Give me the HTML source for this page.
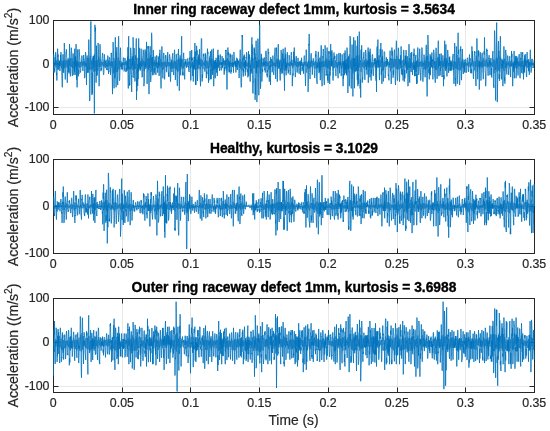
<!DOCTYPE html><html><head><meta charset="utf-8"><style>html,body{margin:0;padding:0;background:#fff;}svg{display:block;}text{font-family:"Liberation Sans",Arial,Helvetica,sans-serif;fill:#262626;stroke:#262626;stroke-width:0.2px;}text.t{fill:#000;stroke:#000;stroke-width:0.35px;}</style></head><body>
<svg width="550" height="431" viewBox="0 0 550 431">
<rect width="550" height="431" fill="#fff"/>
<path d="M122.50,20.5V114.5 M190.50,20.5V114.5 M259.50,20.5V114.5 M328.50,20.5V114.5 M397.50,20.5V114.5 M465.50,20.5V114.5 M53.5,64.00H534.5 M53.5,107.50H534.5" stroke="#e8e8e8" stroke-width="1" fill="none"/>
<path d="M122.50,114.5v-5M122.50,20.5v5 M190.50,114.5v-5M190.50,20.5v5 M259.50,114.5v-5M259.50,20.5v5 M328.50,114.5v-5M328.50,20.5v5 M397.50,114.5v-5M397.50,20.5v5 M465.50,114.5v-5M465.50,20.5v5 M53.5,20.50h5M534.5,20.50h-5 M53.5,64.00h5M534.5,64.00h-5 M53.5,107.50h5M534.5,107.50h-5" stroke="#262626" stroke-width="1" fill="none"/>
<rect x="53.5" y="20.5" width="481.0" height="94.0" stroke="#262626" stroke-width="1" fill="none"/>
<clipPath id="p1c"><rect x="53.0" y="20.0" width="482.0" height="95.0"/></clipPath>
<path clip-path="url(#p1c)" d="M53.85,61.80 54.55,66.27 55.25,61.75 55.95,67.36 56.65,60.50 57.35,69.61 58.05,58.76 58.75,67.61 59.45,61.28 60.15,66.04 60.85,60.42 61.55,68.28 62.25,60.97 62.95,71.83 63.65,60.62 64.35,68.38 65.05,59.46 65.75,66.91 66.45,60.57 67.15,67.98 67.85,59.66 68.55,67.97 69.25,59.97 69.95,66.38 70.65,58.03 71.35,67.00 72.05,58.52 72.75,68.38 73.45,61.06 74.15,67.51 74.85,57.12 75.55,66.66 76.25,60.34 76.95,70.07 77.65,61.28 78.35,66.36 79.05,61.89 79.75,67.95 80.45,62.07 81.15,66.85 81.85,62.33 82.55,64.95 83.25,61.21 83.95,66.39 84.65,61.27 85.35,66.42 86.05,62.35 86.75,67.25 87.45,57.82 88.15,69.19 88.85,58.28 89.55,70.17 90.25,55.61 90.95,69.40 91.65,60.50 92.35,69.80 93.05,56.11 93.75,71.81 94.45,54.10 95.15,71.34 95.85,60.43 96.55,68.84 97.25,60.18 97.95,70.46 98.65,56.46 99.35,66.78 100.05,58.60 100.75,66.98 101.45,61.38 102.15,65.55 102.85,61.99 103.55,66.52 104.25,59.97 104.95,66.89 105.65,61.06 106.35,65.86 107.05,62.87 107.75,66.92 108.45,60.56 109.15,66.15 109.85,61.38 110.55,65.77 111.25,61.41 111.95,67.60 112.65,61.47 113.35,73.30 114.05,57.98 114.75,66.65 115.45,60.01 116.15,72.22 116.85,58.01 117.55,71.86 118.25,57.43 118.95,69.61 119.65,60.74 120.35,66.80 121.05,61.11 121.75,66.96 122.45,62.47 123.15,65.04 123.85,62.78 124.55,64.83 125.25,61.81 125.95,65.17 126.65,60.57 127.35,68.15 128.05,56.19 128.75,68.56 129.45,59.07 130.15,69.87 130.85,58.75 131.55,68.56 132.25,58.29 132.95,69.93 133.65,55.83 134.35,68.85 135.05,60.91 135.75,68.91 136.45,58.37 137.15,73.75 137.85,57.78 138.55,71.58 139.25,57.67 139.95,68.56 140.65,61.29 141.35,66.68 142.05,58.76 142.75,66.20 143.45,60.67 144.15,71.05 144.85,61.74 145.55,69.08 146.25,58.65 146.95,68.11 147.65,58.23 148.35,70.12 149.05,58.22 149.75,67.57 150.45,55.14 151.15,71.88 151.85,57.84 152.55,69.82 153.25,61.80 153.95,66.59 154.65,62.04 155.35,65.84 156.05,61.49 156.75,67.84 157.45,62.58 158.15,66.16 158.85,60.74 159.55,65.62 160.25,58.85 160.95,67.24 161.65,61.69 162.35,66.27 163.05,62.04 163.75,69.29 164.45,61.93 165.15,66.84 165.85,61.78 166.55,67.36 167.25,60.05 167.95,66.42 168.65,61.94 169.35,66.29 170.05,62.33 170.75,68.78 171.45,61.83 172.15,68.69 172.85,61.57 173.55,67.76 174.25,60.58 174.95,68.54 175.65,61.41 176.35,69.89 177.05,59.95 177.75,72.12 178.45,58.50 179.15,70.98 179.85,58.73 180.55,66.99 181.25,59.49 181.95,68.79 182.65,59.44 183.35,68.37 184.05,62.55 184.75,66.54 185.45,61.64 186.15,65.46 186.85,62.37 187.55,65.31 188.25,61.65 188.95,65.44 189.65,61.55 190.35,68.87 191.05,61.60 191.75,67.25 192.45,62.00 193.15,67.53 193.85,60.40 194.55,69.63 195.25,56.46 195.95,69.93 196.65,59.49 197.35,68.74 198.05,59.48 198.75,68.74 199.45,56.76 200.15,69.53 200.85,58.79 201.55,66.35 202.25,59.94 202.95,68.74 203.65,62.08 204.35,65.66 205.05,60.46 205.75,68.01 206.45,60.76 207.15,68.58 207.85,61.42 208.55,68.57 209.25,60.85 209.95,68.04 210.65,59.67 211.35,66.73 212.05,58.58 212.75,71.13 213.45,60.96 214.15,69.39 214.85,61.41 215.55,68.19 216.25,62.15 216.95,68.83 217.65,58.88 218.35,67.80 219.05,60.40 219.75,64.97 220.45,62.37 221.15,64.76 221.85,61.95 222.55,66.46 223.25,60.22 223.95,65.95 224.65,60.53 225.35,68.80 226.05,59.92 226.75,70.51 227.45,58.03 228.15,66.49 228.85,60.06 229.55,66.86 230.25,61.30 230.95,66.45 231.65,62.77 232.35,66.17 233.05,62.23 233.75,65.99 234.45,61.80 235.15,66.53 235.85,62.97 236.55,67.21 237.25,61.62 237.95,65.26 238.65,60.72 239.35,67.39 240.05,58.86 240.75,68.77 241.45,61.67 242.15,70.25 242.85,57.63 243.55,66.41 244.25,61.85 244.95,68.20 245.65,60.32 246.35,66.16 247.05,62.56 247.75,66.85 248.45,62.27 249.15,67.86 249.85,60.24 250.55,67.01 251.25,57.28 251.95,73.26 252.65,58.44 253.35,68.19 254.05,58.34 254.75,68.57 255.45,56.82 256.15,72.75 256.85,60.83 257.55,67.27 258.25,59.44 258.95,67.44 259.65,59.91 260.35,73.44 261.05,58.97 261.75,66.11 262.45,62.70 263.15,67.17 263.85,62.08 264.55,65.34 265.25,61.24 265.95,66.63 266.65,61.48 267.35,65.93 268.05,61.85 268.75,70.13 269.45,60.98 270.15,68.63 270.85,61.99 271.55,66.58 272.25,60.91 272.95,66.08 273.65,62.77 274.35,66.29 275.05,62.13 275.75,66.97 276.45,59.44 277.15,66.61 277.85,58.77 278.55,68.30 279.25,59.74 279.95,67.01 280.65,59.70 281.35,68.58 282.05,61.84 282.75,65.60 283.45,58.56 284.15,70.32 284.85,58.27 285.55,70.58 286.25,62.42 286.95,67.46 287.65,62.74 288.35,65.60 289.05,62.84 289.75,66.51 290.45,61.62 291.15,65.92 291.85,59.86 292.55,67.92 293.25,59.93 293.95,66.54 294.65,57.99 295.35,65.33 296.05,61.53 296.75,67.05 297.45,61.97 298.15,66.53 298.85,62.06 299.55,65.57 300.25,63.32 300.95,65.66 301.65,61.93 302.35,65.63 303.05,62.09 303.75,66.70 304.45,61.87 305.15,65.43 305.85,61.55 306.55,72.63 307.25,61.69 307.95,68.96 308.65,60.42 309.35,68.16 310.05,61.52 310.75,67.14 311.45,60.25 312.15,67.05 312.85,60.71 313.55,65.42 314.25,61.72 314.95,68.57 315.65,61.14 316.35,68.69 317.05,62.21 317.75,67.26 318.45,59.16 319.15,68.61 319.85,61.71 320.55,70.13 321.25,61.58 321.95,67.08 322.65,61.34 323.35,66.38 324.05,61.10 324.75,67.15 325.45,60.37 326.15,66.96 326.85,58.55 327.55,68.26 328.25,60.57 328.95,68.74 329.65,60.73 330.35,70.51 331.05,59.44 331.75,66.64 332.45,60.77 333.15,68.68 333.85,57.88 334.55,67.75 335.25,60.05 335.95,66.81 336.65,62.17 337.35,68.08 338.05,62.20 338.75,65.51 339.45,61.46 340.15,65.50 340.85,61.65 341.55,69.12 342.25,62.29 342.95,66.39 343.65,60.95 344.35,69.83 345.05,59.90 345.75,70.18 346.45,59.26 347.15,69.04 347.85,57.65 348.55,69.91 349.25,54.32 349.95,67.95 350.65,60.54 351.35,69.55 352.05,57.89 352.75,73.50 353.45,58.54 354.15,71.05 354.85,57.97 355.55,66.46 356.25,55.65 356.95,68.64 357.65,58.67 358.35,70.50 359.05,55.33 359.75,67.33 360.45,60.16 361.15,71.87 361.85,58.84 362.55,66.88 363.25,61.64 363.95,68.13 364.65,60.40 365.35,66.71 366.05,58.96 366.75,67.62 367.45,60.52 368.15,67.22 368.85,59.57 369.55,67.84 370.25,59.37 370.95,68.37 371.65,62.30 372.35,67.52 373.05,62.59 373.75,65.85 374.45,61.94 375.15,67.31 375.85,60.77 376.55,70.39 377.25,60.61 377.95,67.03 378.65,59.62 379.35,67.67 380.05,60.14 380.75,67.09 381.45,57.46 382.15,71.07 382.85,61.66 383.55,70.16 384.25,61.67 384.95,66.98 385.65,60.91 386.35,66.26 387.05,62.36 387.75,65.38 388.45,61.64 389.15,67.57 389.85,60.49 390.55,71.36 391.25,58.65 391.95,68.20 392.65,58.90 393.35,67.54 394.05,58.67 394.75,66.81 395.45,59.23 396.15,68.95 396.85,55.74 397.55,69.68 398.25,58.43 398.95,69.43 399.65,59.10 400.35,68.24 401.05,61.33 401.75,66.83 402.45,60.32 403.15,68.45 403.85,59.01 404.55,65.88 405.25,60.66 405.95,67.59 406.65,60.21 407.35,70.15 408.05,61.82 408.75,67.85 409.45,57.85 410.15,66.82 410.85,61.65 411.55,65.88 412.25,62.69 412.95,67.81 413.65,61.36 414.35,68.27 415.05,62.07 415.75,69.87 416.45,60.69 417.15,67.08 417.85,58.72 418.55,67.08 419.25,62.08 419.95,66.46 420.65,61.55 421.35,66.78 422.05,61.21 422.75,66.05 423.45,62.45 424.15,69.37 424.85,60.69 425.55,69.79 426.25,56.35 426.95,68.22 427.65,56.15 428.35,67.21 429.05,61.17 429.75,65.99 430.45,61.72 431.15,67.69 431.85,62.16 432.55,68.33 433.25,58.98 433.95,67.58 434.65,61.18 435.35,69.67 436.05,61.07 436.75,70.12 437.45,57.62 438.15,67.40 438.85,60.25 439.55,65.90 440.25,60.84 440.95,67.84 441.65,60.71 442.35,66.83 443.05,60.60 443.75,66.79 444.45,57.95 445.15,67.47 445.85,61.58 446.55,68.82 447.25,61.81 447.95,66.32 448.65,62.95 449.35,66.98 450.05,61.66 450.75,66.43 451.45,62.34 452.15,66.71 452.85,61.34 453.55,69.98 454.25,60.91 454.95,68.35 455.65,61.89 456.35,68.78 457.05,54.96 457.75,69.56 458.45,57.86 459.15,70.64 459.85,57.62 460.55,70.08 461.25,61.38 461.95,67.58 462.65,58.90 463.35,67.71 464.05,62.27 464.75,66.19 465.45,62.10 466.15,65.78 466.85,63.10 467.55,65.55 468.25,61.84 468.95,66.80 469.65,61.33 470.35,67.82 471.05,61.94 471.75,65.82 472.45,60.45 473.15,66.71 473.85,61.35 474.55,70.42 475.25,61.46 475.95,66.99 476.65,56.22 477.35,72.19 478.05,60.46 478.75,66.90 479.45,60.73 480.15,67.00 480.85,61.65 481.55,66.27 482.25,60.63 482.95,67.35 483.65,58.13 484.35,66.31 485.05,60.28 485.75,66.64 486.45,58.96 487.15,67.30 487.85,62.26 488.55,66.43 489.25,62.42 489.95,67.26 490.65,61.53 491.35,65.71 492.05,62.45 492.75,66.94 493.45,59.45 494.15,73.15 494.85,60.40 495.55,69.88 496.25,57.97 496.95,71.56 497.65,58.44 498.35,70.37 499.05,57.33 499.75,71.50 500.45,56.82 501.15,68.40 501.85,58.65 502.55,68.68 503.25,62.22 503.95,71.08 504.65,58.73 505.35,67.96 506.05,61.48 506.75,67.57 507.45,63.00 508.15,65.30 508.85,61.39 509.55,66.81 510.25,61.36 510.95,66.01 511.65,59.75 512.35,65.87 513.05,62.02 513.75,69.00 514.45,60.95 515.15,68.02 515.85,60.98 516.55,68.70 517.25,61.15 517.95,66.76 518.65,61.74 519.35,66.16 520.05,60.82 520.75,67.49 521.45,61.31 522.15,66.70 522.85,61.15 523.55,68.24 524.25,60.35 524.95,67.03 525.65,60.73 526.35,66.80 527.05,61.02 527.75,67.92 528.45,61.95 529.15,65.60 529.85,61.61 530.55,66.62 531.25,61.37 531.95,64.79 532.65,63.08 533.35,65.33 534.05,62.55" stroke="#0072BD" stroke-width="0.6" fill="none" stroke-linejoin="round"/>
<path clip-path="url(#p1c)" d="M53.50,72.55 53.70,54.36 53.90,62.39 54.10,70.94 54.30,67.90 54.50,72.46 54.70,71.88 54.90,68.78 55.10,57.34 55.30,63.84 55.50,54.01 55.70,52.21 55.90,54.92 56.10,57.77 56.30,70.64 56.50,75.16 56.70,72.88 56.90,80.50 57.10,71.24 57.30,66.71 57.50,48.68 57.70,48.83 57.90,57.56 58.10,54.54 58.30,64.59 58.50,69.63 58.70,69.01 58.90,68.65 59.10,61.57 59.30,61.83 59.50,65.77 59.70,60.61 59.90,71.04 60.10,67.09 60.30,64.29 60.50,54.98 60.70,60.87 60.90,52.09 61.10,53.45 61.30,58.59 61.50,67.57 61.70,67.57 61.90,76.86 62.10,81.51 62.30,87.32 62.50,70.61 62.70,63.08 62.90,54.27 63.10,54.60 63.30,59.92 63.50,65.87 63.70,72.96 63.90,65.15 64.10,53.55 64.30,43.00 64.50,47.25 64.70,59.53 64.90,67.16 65.10,78.15 65.30,79.47 65.50,77.77 65.70,69.14 65.90,52.76 66.10,53.12 66.30,49.53 66.50,49.28 66.70,57.31 66.90,57.93 67.10,69.67 67.30,82.77 67.50,72.79 67.70,68.16 67.90,63.27 68.10,59.98 68.30,58.41 68.50,60.35 68.70,72.28 68.90,67.63 69.10,73.43 69.30,56.83 69.50,44.14 69.70,53.58 69.90,59.06 70.10,66.13 70.30,76.42 70.50,75.44 70.70,68.50 70.90,58.33 71.10,51.75 71.30,47.71 71.50,50.53 71.70,52.97 71.90,61.85 72.10,73.19 72.30,75.84 72.50,75.84 72.70,65.83 72.90,54.60 73.10,53.46 73.30,53.86 73.50,60.21 73.70,60.97 73.90,75.09 74.10,66.42 74.30,65.98 74.50,71.68 74.70,48.77 74.90,73.43 75.10,73.68 75.30,74.78 75.50,56.32 75.70,65.89 75.90,48.00 76.10,44.14 76.30,54.58 76.50,78.35 76.70,79.81 76.90,62.99 77.10,87.32 77.30,71.47 77.50,58.08 77.70,49.43 77.90,55.81 78.10,60.30 78.30,76.38 78.50,70.17 78.70,70.45 78.90,74.14 79.10,49.34 79.30,51.50 79.50,56.73 79.70,57.71 79.90,59.60 80.10,70.29 80.30,72.46 80.50,72.46 80.70,70.97 80.90,68.47 81.10,63.08 81.30,61.45 81.50,62.23 81.70,58.27 81.90,55.59 82.10,58.73 82.30,62.07 82.50,66.40 82.70,66.59 82.90,70.98 83.10,65.99 83.30,64.41 83.50,56.52 83.70,55.07 83.90,59.60 84.10,59.10 84.30,61.51 84.50,78.05 84.70,78.08 84.90,77.39 85.10,74.20 85.30,56.39 85.50,52.09 85.70,53.28 85.90,59.31 86.10,66.43 86.30,70.17 86.50,85.05 86.70,62.27 86.90,57.89 87.10,55.57 87.30,62.61 87.50,65.52 87.70,72.83 87.90,67.76 88.10,71.57 88.30,72.48 88.50,50.18 88.70,39.59 88.90,39.84 89.10,51.35 89.30,65.50 89.50,100.95 89.70,100.59 89.90,100.59 90.10,84.75 90.30,60.72 90.50,36.40 90.70,32.51 90.90,21.41 91.10,43.68 91.30,65.01 91.50,66.85 91.70,88.05 91.90,94.96 92.10,88.74 92.30,72.68 92.50,93.56 92.70,62.71 92.90,58.20 93.10,63.49 93.30,63.91 93.50,55.74 93.70,67.15 93.90,56.78 94.10,80.78 94.30,113.45 94.50,110.45 94.70,58.56 94.90,24.82 95.10,31.53 95.30,31.20 95.50,27.46 95.70,60.43 95.90,72.32 96.10,82.64 96.30,72.19 96.50,45.67 96.70,75.75 96.90,68.91 97.10,75.44 97.30,69.04 97.50,63.98 97.70,62.68 97.90,49.84 98.10,43.00 98.30,46.39 98.50,48.51 98.70,63.87 98.90,80.53 99.10,86.18 99.30,82.61 99.50,69.70 99.70,62.22 99.90,44.33 100.10,44.33 100.30,49.78 100.50,58.02 100.70,58.92 100.90,71.16 101.10,69.82 101.30,67.82 101.50,70.10 101.70,67.71 101.90,65.00 102.10,58.67 102.30,56.15 102.50,53.15 102.70,53.05 102.90,58.63 103.10,61.83 103.30,72.27 103.50,74.82 103.70,74.71 103.90,72.31 104.10,64.47 104.30,54.31 104.50,54.94 104.70,59.32 104.90,65.02 105.10,67.04 105.30,68.14 105.50,67.40 105.70,65.95 105.90,62.32 106.10,59.68 106.30,65.36 106.50,65.14 106.70,69.91 106.90,68.73 107.10,69.57 107.30,70.18 107.50,60.00 107.70,55.59 107.90,56.11 108.10,56.97 108.30,64.34 108.50,73.89 108.70,70.91 108.90,71.84 109.10,70.12 109.30,59.75 109.50,57.32 109.70,59.03 109.90,58.94 110.10,67.51 110.30,67.98 110.50,74.82 110.70,66.40 110.90,65.32 111.10,53.46 111.30,54.12 111.50,52.86 111.70,63.90 111.90,69.95 112.10,73.54 112.30,81.38 112.50,94.14 112.70,60.56 112.90,51.03 113.10,42.08 113.30,47.24 113.50,49.10 113.70,67.84 113.90,83.82 114.10,88.30 114.30,78.77 114.50,72.47 114.70,66.34 114.90,78.42 115.10,69.85 115.30,37.32 115.50,66.48 115.70,75.88 115.90,77.81 116.10,87.32 116.30,51.94 116.50,58.40 116.70,47.32 116.90,47.24 117.10,59.56 117.30,75.11 117.50,80.19 117.70,85.11 117.90,75.54 118.10,65.52 118.30,47.98 118.50,36.18 118.70,36.46 118.90,51.81 119.10,60.77 119.30,77.56 119.50,80.75 119.70,79.29 119.90,72.80 120.10,57.36 120.30,50.36 120.50,47.71 120.70,55.43 120.90,61.75 121.10,67.07 121.30,69.36 121.50,65.04 121.70,63.75 121.90,65.92 122.10,62.61 122.30,69.61 122.50,67.71 122.70,68.77 122.90,66.38 123.10,64.14 123.30,57.61 123.50,57.81 123.70,57.69 123.90,64.08 124.10,71.33 124.30,70.29 124.50,70.04 124.70,64.65 124.90,58.29 125.10,58.01 125.30,60.43 125.50,61.36 125.70,62.51 125.90,71.97 126.10,68.94 126.30,67.99 126.50,71.20 126.70,68.13 126.90,62.38 127.10,69.36 127.30,70.45 127.50,57.15 127.70,64.18 127.90,47.30 128.10,75.59 128.30,88.45 128.50,45.36 128.70,36.18 128.90,57.10 129.10,68.76 129.30,66.82 129.50,85.62 129.70,83.63 129.90,84.63 130.10,75.20 130.30,74.72 130.50,55.30 130.70,47.71 130.90,51.33 131.10,53.24 131.30,70.75 131.50,86.14 131.70,91.86 131.90,75.69 132.10,76.67 132.30,56.45 132.50,65.50 132.70,56.46 132.90,52.41 133.10,37.32 133.30,46.32 133.50,71.45 133.70,75.25 133.90,77.92 134.10,48.02 134.30,63.41 134.50,71.90 134.70,72.05 134.90,81.44 135.10,80.70 135.30,62.29 135.50,59.98 135.70,55.29 135.90,59.73 136.10,47.21 136.30,38.45 136.50,99.82 136.70,78.55 136.90,91.13 137.10,70.95 137.30,71.48 137.50,68.84 137.70,85.89 137.90,64.10 138.10,79.22 138.30,70.32 138.50,67.91 138.70,38.45 138.90,69.55 139.10,62.16 139.30,47.81 139.50,63.14 139.70,67.52 139.90,62.95 140.10,69.89 140.30,70.67 140.50,66.81 140.70,68.86 140.90,54.46 141.10,48.68 141.30,51.73 141.50,65.73 141.70,64.92 141.90,75.42 142.10,77.25 142.30,75.97 142.50,76.32 142.70,58.24 142.90,55.46 143.10,49.74 143.30,49.86 143.50,51.83 143.70,60.68 143.90,86.18 144.10,82.96 144.30,82.97 144.50,72.75 144.70,59.09 144.90,52.51 145.10,49.44 145.30,61.41 145.50,62.91 145.70,67.03 145.90,58.41 146.10,51.53 146.30,58.09 146.50,41.86 146.70,61.58 146.90,72.17 147.10,83.91 147.30,73.54 147.50,69.46 147.70,65.85 147.90,46.34 148.10,48.60 148.30,45.95 148.50,52.51 148.70,77.86 148.90,93.25 149.10,94.14 149.30,78.23 149.50,63.81 149.70,51.87 149.90,51.34 150.10,46.26 150.30,49.15 150.50,80.34 150.70,81.92 150.90,80.21 151.10,75.73 151.30,64.71 151.50,33.60 151.70,32.77 151.90,38.43 152.10,65.21 152.30,56.91 152.50,72.27 152.70,75.30 152.90,68.32 153.10,62.42 153.30,49.96 153.50,56.58 153.70,61.99 153.90,74.73 154.10,68.25 154.30,72.74 154.50,69.08 154.70,60.38 154.90,61.07 155.10,56.51 155.30,58.20 155.50,70.18 155.70,71.06 155.90,74.82 156.10,70.40 156.30,62.00 156.50,64.60 156.70,55.38 156.90,59.46 157.10,65.79 157.30,66.19 157.50,65.51 157.70,72.61 157.90,66.02 158.10,68.06 158.30,56.45 158.50,61.01 158.70,65.95 158.90,62.83 159.10,75.97 159.30,70.11 159.50,53.56 159.70,58.81 159.90,49.76 160.10,53.49 160.30,62.52 160.50,69.27 160.70,76.70 160.90,85.40 161.10,88.45 161.30,75.80 161.50,68.51 161.70,53.51 161.90,46.41 162.10,55.06 162.30,69.64 162.50,67.49 162.70,74.32 162.90,78.30 163.10,68.84 163.30,60.04 163.50,55.56 163.70,52.92 163.90,54.05 164.10,59.36 164.30,69.07 164.50,79.36 164.70,79.21 164.90,73.41 165.10,68.31 165.30,59.19 165.50,55.46 165.70,56.51 165.90,55.34 166.10,65.19 166.30,65.24 166.50,71.30 166.70,72.17 166.90,66.71 167.10,66.13 167.30,57.60 167.50,60.90 167.70,52.09 167.90,62.03 168.10,64.48 168.30,69.82 168.50,76.25 168.70,72.59 168.90,76.96 169.10,68.91 169.30,56.25 169.50,54.46 169.70,54.46 169.90,58.08 170.10,57.89 170.30,77.04 170.50,81.64 170.70,76.98 170.90,63.15 171.10,62.11 171.30,59.57 171.50,61.21 171.70,67.92 171.90,72.02 172.10,69.15 172.30,55.92 172.50,55.79 172.70,53.23 172.90,59.94 173.10,64.52 173.30,70.55 173.50,74.05 173.70,75.06 173.90,69.07 174.10,62.92 174.30,54.10 174.50,49.82 174.70,52.67 174.90,61.32 175.10,66.86 175.30,79.89 175.50,78.84 175.70,66.78 175.90,67.24 176.10,58.94 176.30,54.25 176.50,57.87 176.70,58.41 176.90,72.16 177.10,83.41 177.30,85.96 177.50,85.96 177.70,72.21 177.90,62.43 178.10,53.56 178.30,54.94 178.50,49.03 178.70,59.27 178.90,68.01 179.10,74.17 179.30,90.73 179.50,79.07 179.70,65.90 179.90,56.23 180.10,55.33 180.30,56.09 180.50,71.98 180.70,75.28 180.90,58.18 181.10,66.83 181.30,52.85 181.50,41.65 181.70,36.18 181.90,58.73 182.10,64.14 182.30,69.99 182.50,73.39 182.70,75.22 182.90,72.36 183.10,75.34 183.30,58.51 183.50,53.99 183.70,52.82 183.90,59.54 184.10,58.98 184.30,70.54 184.50,77.70 184.70,79.36 184.90,70.97 185.10,65.48 185.30,61.39 185.50,63.57 185.70,60.59 185.90,59.18 186.10,62.55 186.30,64.59 186.50,67.67 186.70,65.69 186.90,67.07 187.10,64.29 187.30,60.76 187.50,58.82 187.70,58.47 187.90,58.38 188.10,63.67 188.30,67.23 188.50,65.95 188.70,70.43 188.90,70.26 189.10,72.00 189.30,63.43 189.50,57.75 189.70,59.28 189.90,57.54 190.10,51.08 190.30,62.47 190.50,73.00 190.70,80.50 190.90,80.34 191.10,73.75 191.30,57.09 191.50,61.18 191.70,49.96 191.90,59.40 192.10,59.96 192.30,57.84 192.50,69.25 192.70,76.05 192.90,71.39 193.10,64.84 193.30,81.46 193.50,66.67 193.70,65.30 193.90,68.40 194.10,56.88 194.30,67.46 194.50,61.71 194.70,53.85 194.90,43.00 195.10,60.79 195.30,51.56 195.50,85.05 195.70,68.16 195.90,84.84 196.10,70.63 196.30,54.31 196.50,45.81 196.70,46.24 196.90,55.30 197.10,50.40 197.30,73.26 197.50,81.01 197.70,74.02 197.90,71.27 198.10,56.58 198.30,64.69 198.50,55.95 198.70,54.60 198.90,58.79 199.10,60.57 199.30,64.57 199.50,49.20 199.70,58.15 199.90,60.95 200.10,77.65 200.30,80.60 200.50,86.18 200.70,73.82 200.90,56.15 201.10,47.25 201.30,38.45 201.50,38.71 201.70,38.71 201.90,64.90 202.10,81.46 202.30,74.60 202.50,78.24 202.70,76.28 202.90,63.91 203.10,59.86 203.30,54.48 203.50,56.06 203.70,53.69 203.90,56.58 204.10,56.78 204.30,69.05 204.50,69.40 204.70,68.46 204.90,71.61 205.10,67.87 205.30,53.27 205.50,61.47 205.70,54.62 205.90,62.76 206.10,69.34 206.30,78.08 206.50,78.08 206.70,71.43 206.90,74.08 207.10,59.11 207.30,53.60 207.50,48.68 207.70,53.95 207.90,51.85 208.10,60.37 208.30,71.91 208.50,82.77 208.70,68.46 208.90,80.46 209.10,71.03 209.30,61.83 209.50,57.57 209.70,61.41 209.90,56.51 210.10,57.10 210.30,53.58 210.50,51.36 210.70,79.21 210.90,68.75 211.10,79.21 211.30,69.26 211.50,70.12 211.70,49.59 211.90,58.67 212.10,68.05 212.30,71.39 212.50,74.79 212.70,64.91 212.90,62.33 213.10,52.15 213.30,48.68 213.50,53.63 213.70,86.18 213.90,79.58 214.10,78.45 214.30,61.98 214.50,69.09 214.70,67.86 214.90,60.20 215.10,74.22 215.30,78.23 215.50,60.28 215.70,65.59 215.90,64.98 216.10,57.82 216.30,66.76 216.50,71.35 216.70,72.61 216.90,63.19 217.10,68.25 217.30,76.01 217.50,68.13 217.70,59.46 217.90,49.82 218.10,66.73 218.30,55.85 218.50,59.06 218.70,55.24 218.90,62.60 219.10,63.06 219.30,68.38 219.50,70.84 219.70,68.01 219.90,60.71 220.10,55.62 220.30,54.46 220.50,55.75 220.70,65.10 220.90,65.90 221.10,70.27 221.30,70.43 221.50,65.57 221.70,62.68 221.90,64.29 222.10,56.12 222.30,65.21 222.50,68.12 222.70,62.92 222.90,63.52 223.10,62.50 223.30,60.05 223.50,58.36 223.70,61.79 223.90,65.18 224.10,74.71 224.30,74.39 224.50,67.12 224.70,71.16 224.90,65.53 225.10,60.88 225.30,64.88 225.50,58.76 225.70,49.96 225.90,51.07 226.10,49.96 226.30,52.84 226.50,62.53 226.70,75.27 226.90,89.59 227.10,89.33 227.30,73.54 227.50,62.06 227.70,57.48 227.90,47.55 228.10,55.21 228.30,51.93 228.50,62.70 228.70,68.51 228.90,71.38 229.10,72.48 229.30,62.14 229.50,71.97 229.70,60.75 229.90,53.70 230.10,53.53 230.30,57.32 230.50,54.65 230.70,68.05 230.90,73.59 231.10,70.09 231.30,71.89 231.50,71.56 231.70,61.33 231.90,57.32 232.10,54.71 232.30,58.10 232.50,58.23 232.70,66.95 232.90,62.36 233.10,67.32 233.30,67.12 233.50,72.55 233.70,60.06 233.90,52.09 234.10,54.68 234.30,56.81 234.50,61.64 234.70,64.24 234.90,61.54 235.10,62.68 235.30,63.86 235.50,67.05 235.70,60.69 235.90,72.46 236.10,67.21 236.30,67.44 236.50,59.39 236.70,57.74 236.90,58.10 237.10,60.78 237.30,70.01 237.50,58.98 237.70,63.22 237.90,63.05 238.10,60.93 238.30,61.26 238.50,60.83 238.70,64.16 238.90,71.65 239.10,78.08 239.30,73.80 239.50,68.41 239.70,62.19 239.90,57.42 240.10,51.24 240.30,49.70 240.50,55.11 240.70,58.36 240.90,82.23 241.10,87.32 241.30,87.08 241.50,87.08 241.70,72.46 241.90,46.33 242.10,35.05 242.30,37.06 242.50,35.33 242.70,56.88 242.90,71.21 243.10,74.05 243.30,76.50 243.50,68.79 243.70,72.17 243.90,55.80 244.10,60.02 244.30,54.60 244.50,67.92 244.70,65.06 244.90,65.03 245.10,62.38 245.30,75.62 245.50,60.24 245.70,66.28 245.90,69.90 246.10,56.99 246.30,58.33 246.50,52.21 246.70,52.81 246.90,54.79 247.10,66.28 247.30,72.22 247.50,69.57 247.70,72.40 247.90,77.34 248.10,73.21 248.30,61.78 248.50,51.08 248.70,75.96 248.90,55.17 249.10,58.99 249.30,54.43 249.50,55.32 249.70,62.25 249.90,72.69 250.10,81.64 250.30,81.46 250.50,65.03 250.70,72.77 250.90,73.86 251.10,69.24 251.30,71.30 251.50,54.68 251.70,43.23 251.90,37.32 252.10,60.41 252.30,44.52 252.50,72.07 252.70,92.00 252.90,93.21 253.10,93.49 253.30,82.34 253.50,82.65 253.70,74.78 253.90,58.34 254.10,47.48 254.30,54.92 254.50,48.65 254.70,59.17 254.90,53.60 255.10,99.82 255.30,78.41 255.50,94.50 255.70,73.33 255.90,56.69 256.10,40.73 256.30,56.47 256.50,73.30 256.70,61.38 256.90,102.09 257.10,89.55 257.30,77.40 257.50,60.26 257.70,49.04 257.90,38.67 258.10,41.27 258.30,48.74 258.50,79.10 258.70,95.24 258.90,95.00 259.10,78.69 259.30,66.38 259.50,37.87 259.70,24.82 259.90,40.96 260.10,52.43 260.30,61.51 260.50,88.79 260.70,86.01 260.90,76.12 261.10,72.77 261.30,53.84 261.50,63.25 261.70,57.39 261.90,81.51 262.10,74.34 262.30,71.27 262.50,68.95 262.70,71.72 262.90,62.14 263.10,58.58 263.30,60.25 263.50,65.11 263.70,64.67 263.90,65.33 264.10,59.17 264.30,57.34 264.50,64.84 264.70,70.17 264.90,68.67 265.10,69.02 265.30,72.46 265.50,65.08 265.70,51.99 265.90,50.96 266.10,50.82 266.30,52.92 266.50,56.62 266.70,69.69 266.90,75.36 267.10,74.32 267.30,77.36 267.50,70.30 267.70,72.01 267.90,55.79 268.10,48.68 268.30,51.73 268.50,53.58 268.70,52.18 268.90,72.03 269.10,77.14 269.30,81.61 269.50,75.94 269.70,76.78 269.90,65.48 270.10,69.71 270.30,77.02 270.50,85.05 270.70,57.20 270.90,62.47 271.10,61.28 271.30,59.10 271.50,60.83 271.70,60.20 271.90,64.03 272.10,72.28 272.30,71.04 272.50,68.28 272.70,64.77 272.90,55.61 273.10,63.09 273.30,70.64 273.50,71.57 273.70,74.84 273.90,71.66 274.10,71.28 274.30,61.92 274.50,56.45 274.70,52.80 274.90,51.81 275.10,47.71 275.30,61.74 275.50,78.96 275.70,78.78 275.90,72.79 276.10,57.90 276.30,55.03 276.50,47.64 276.70,54.70 276.90,56.41 277.10,64.22 277.30,81.64 277.50,69.04 277.70,61.77 277.90,62.59 278.10,47.27 278.30,44.14 278.50,57.49 278.70,62.41 278.90,66.86 279.10,68.71 279.30,61.67 279.50,65.42 279.70,67.00 279.90,75.03 280.10,80.50 280.30,80.34 280.50,67.97 280.70,71.54 280.90,60.65 281.10,49.96 281.30,51.66 281.50,63.11 281.70,62.59 281.90,73.81 282.10,64.23 282.30,72.86 282.50,65.61 282.70,53.52 282.90,60.77 283.10,48.83 283.30,62.65 283.50,61.16 283.70,70.87 283.90,75.13 284.10,75.63 284.30,78.91 284.50,90.73 284.70,55.17 284.90,52.56 285.10,47.55 285.30,47.71 285.50,68.04 285.70,54.34 285.90,59.70 286.10,75.27 286.30,67.57 286.50,64.80 286.70,70.36 286.90,68.43 287.10,59.58 287.30,52.21 287.50,57.04 287.70,64.25 287.90,67.10 288.10,73.43 288.30,73.33 288.50,70.36 288.70,71.66 288.90,60.31 289.10,55.13 289.30,56.01 289.50,58.58 289.70,60.39 289.90,71.28 290.10,74.79 290.30,75.07 290.50,71.60 290.70,64.89 290.90,60.62 291.10,55.24 291.30,52.09 291.50,55.50 291.70,62.75 291.90,65.02 292.10,63.16 292.30,86.18 292.50,77.92 292.70,78.23 292.90,73.61 293.10,75.34 293.30,71.89 293.50,51.79 293.70,54.49 293.90,61.12 294.10,57.43 294.30,47.55 294.50,62.90 294.70,61.37 294.90,70.37 295.10,72.39 295.30,77.09 295.50,72.44 295.70,72.62 295.90,60.88 296.10,56.77 296.30,56.09 296.50,61.32 296.70,62.63 296.90,67.75 297.10,72.46 297.30,72.46 297.50,66.59 297.70,64.79 297.90,58.17 298.10,57.83 298.30,61.37 298.50,64.93 298.70,67.70 298.90,68.25 299.10,73.67 299.30,62.99 299.50,61.65 299.70,61.30 299.90,63.20 300.10,62.22 300.30,63.85 300.50,74.82 300.70,61.44 300.90,66.03 301.10,60.29 301.30,61.33 301.50,57.77 301.70,59.14 301.90,66.94 302.10,71.21 302.30,67.52 302.50,69.23 302.70,66.30 302.90,64.81 303.10,66.17 303.30,64.73 303.50,73.68 303.70,65.60 303.90,63.63 304.10,56.22 304.30,55.59 304.50,55.80 304.70,56.91 304.90,67.33 305.10,75.25 305.30,77.23 305.50,85.96 305.70,78.35 305.90,62.15 306.10,50.12 306.30,49.65 306.50,52.90 306.70,60.48 306.90,66.34 307.10,64.64 307.30,64.45 307.50,64.49 307.70,67.44 307.90,76.06 308.10,91.86 308.30,86.30 308.50,74.41 308.70,44.02 308.90,45.19 309.10,33.91 309.30,34.21 309.50,52.89 309.70,72.50 309.90,76.82 310.10,79.08 310.30,72.78 310.50,64.73 310.70,59.92 310.90,54.47 311.10,53.84 311.30,53.26 311.50,61.33 311.70,63.70 311.90,66.48 312.10,67.95 312.30,74.71 312.50,71.01 312.70,66.87 312.90,65.04 313.10,58.82 313.30,58.34 313.50,59.24 313.70,62.66 313.90,64.66 314.10,68.05 314.30,69.56 314.50,77.42 314.70,78.08 314.90,76.04 315.10,68.76 315.30,58.89 315.50,54.30 315.70,56.53 315.90,50.95 316.10,53.42 316.30,58.81 316.50,69.86 316.70,80.88 316.90,80.74 317.10,83.91 317.30,72.36 317.50,63.21 317.70,67.58 317.90,57.23 318.10,54.45 318.30,51.77 318.50,54.07 318.70,60.27 318.90,71.95 319.10,73.18 319.30,62.07 319.50,71.97 319.70,67.03 319.90,57.63 320.10,68.64 320.30,80.18 320.50,69.02 320.70,55.57 320.90,54.84 321.10,45.27 321.30,45.46 321.50,64.10 321.70,74.92 321.90,80.67 322.10,86.18 322.30,73.87 322.50,68.80 322.70,56.30 322.90,57.49 323.10,56.81 323.30,48.97 323.50,63.54 323.70,70.60 323.90,79.57 324.10,81.22 324.30,85.05 324.50,72.94 324.70,67.78 324.90,57.99 325.10,45.27 325.30,50.49 325.50,56.16 325.70,67.92 325.90,70.06 326.10,75.73 326.30,74.03 326.50,74.57 326.70,57.75 326.90,54.14 327.10,47.55 327.30,54.08 327.50,69.47 327.70,80.39 327.90,74.27 328.10,82.77 328.30,67.22 328.50,62.14 328.70,51.52 328.90,53.45 329.10,51.26 329.30,55.49 329.50,71.10 329.70,83.91 329.90,71.49 330.10,75.42 330.30,72.04 330.50,52.23 330.70,44.14 330.90,56.70 331.10,51.79 331.30,65.91 331.50,57.67 331.70,65.31 331.90,50.33 332.10,52.37 332.30,57.95 332.50,60.34 332.70,71.58 332.90,79.09 333.10,80.50 333.30,74.74 333.50,75.24 333.70,58.38 333.90,53.52 334.10,52.57 334.30,58.82 334.50,56.88 334.70,58.63 334.90,55.88 335.10,66.68 335.30,68.26 335.50,71.19 335.70,73.57 335.90,76.05 336.10,72.73 336.30,61.19 336.50,61.06 336.70,54.08 336.90,54.20 337.10,54.33 337.30,67.48 337.50,65.59 337.70,73.09 337.90,74.52 338.10,78.23 338.30,64.01 338.50,64.05 338.70,53.23 338.90,53.34 339.10,53.34 339.30,64.84 339.50,73.30 339.70,64.57 339.90,63.06 340.10,64.41 340.30,53.23 340.50,57.37 340.70,68.74 340.90,69.85 341.10,75.74 341.30,75.83 341.50,69.42 341.70,68.38 341.90,58.42 342.10,54.31 342.30,56.06 342.50,60.90 342.70,68.54 342.90,75.64 343.10,86.18 343.30,73.59 343.50,78.63 343.70,62.36 343.90,72.54 344.10,52.99 344.30,59.36 344.50,75.14 344.70,61.54 344.90,68.68 345.10,50.49 345.30,55.48 345.50,67.78 345.70,62.89 345.90,73.11 346.10,63.78 346.30,73.93 346.50,64.54 346.70,75.44 346.90,47.71 347.10,47.71 347.30,50.85 347.50,62.01 347.70,66.06 347.90,93.00 348.10,63.25 348.30,68.52 348.50,56.42 348.70,61.17 348.90,72.16 349.10,71.47 349.30,86.20 349.50,79.18 349.70,78.08 349.90,39.66 350.10,36.18 350.30,37.78 350.50,38.07 350.70,53.88 350.90,70.59 351.10,85.88 351.30,88.45 351.50,73.96 351.70,65.79 351.90,54.85 352.10,44.58 352.30,54.80 352.50,78.17 352.70,77.87 352.90,96.41 353.10,76.53 353.30,73.11 353.50,45.31 353.70,37.32 353.90,66.81 354.10,58.43 354.30,68.31 354.50,88.21 354.70,69.88 354.90,42.67 355.10,40.45 355.30,42.99 355.50,68.66 355.70,71.70 355.90,67.45 356.10,69.52 356.30,70.89 356.50,69.39 356.70,62.79 356.90,59.49 357.10,45.73 357.30,79.81 357.50,36.18 357.70,73.16 357.90,86.18 358.10,74.29 358.30,83.96 358.50,65.85 358.70,61.34 358.90,43.44 359.10,38.65 359.30,31.64 359.50,56.30 359.70,68.30 359.90,76.51 360.10,88.64 360.30,79.45 360.50,79.95 360.70,97.55 360.90,53.12 361.10,49.54 361.30,59.02 361.50,52.10 361.70,45.27 361.90,57.30 362.10,75.03 362.30,82.66 362.50,77.58 362.70,79.40 362.90,73.71 363.10,67.80 363.30,57.58 363.50,58.06 363.70,54.56 363.90,52.17 364.10,58.97 364.30,61.59 364.50,70.63 364.70,76.13 364.90,79.82 365.10,70.21 365.30,64.68 365.50,53.19 365.70,49.96 365.90,52.15 366.10,53.48 366.30,70.04 366.50,69.79 366.70,62.78 366.90,74.32 367.10,74.63 367.30,61.92 367.50,61.24 367.70,60.88 367.90,63.45 368.10,47.55 368.30,82.77 368.50,69.82 368.70,70.32 368.90,51.40 369.10,65.96 369.30,52.65 369.50,64.32 369.70,66.59 369.90,77.24 370.10,48.68 370.30,54.10 370.50,54.35 370.70,59.97 370.90,67.41 371.10,80.50 371.30,69.22 371.50,73.90 371.70,71.56 371.90,65.72 372.10,56.66 372.30,54.74 372.50,54.32 372.70,56.44 372.90,68.09 373.10,75.84 373.30,75.84 373.50,75.24 373.70,68.66 373.90,62.91 374.10,59.80 374.30,59.38 374.50,60.60 374.70,58.44 374.90,63.80 375.10,61.85 375.30,58.17 375.50,64.40 375.70,76.97 375.90,79.21 376.10,80.79 376.30,60.51 376.50,91.86 376.70,60.85 376.90,47.55 377.10,47.65 377.30,46.26 377.50,62.53 377.70,56.83 377.90,39.59 378.10,67.78 378.30,61.07 378.50,65.47 378.70,61.42 378.90,59.61 379.10,55.34 379.30,77.85 379.50,80.11 379.70,70.10 379.90,64.29 380.10,49.14 380.30,48.94 380.50,56.96 380.70,47.80 380.90,43.00 381.10,63.11 381.30,75.03 381.50,69.03 381.70,75.21 381.90,83.91 382.10,49.52 382.30,62.82 382.50,56.10 382.70,59.24 382.90,65.92 383.10,73.13 383.30,81.46 383.50,74.86 383.70,72.36 383.90,62.86 384.10,51.82 384.30,51.49 384.50,51.99 384.70,52.21 384.90,61.70 385.10,78.08 385.30,75.04 385.50,74.62 385.70,70.43 385.90,67.75 386.10,64.70 386.30,57.46 386.50,57.31 386.70,66.47 386.90,61.42 387.10,64.30 387.30,64.32 387.50,59.07 387.70,61.53 387.90,64.51 388.10,64.28 388.30,75.95 388.50,74.62 388.70,76.47 388.90,80.34 389.10,66.75 389.30,63.34 389.50,65.29 389.70,61.30 389.90,56.08 390.10,50.70 390.30,60.42 390.50,58.33 390.70,60.01 390.90,73.23 391.10,83.27 391.30,83.91 391.50,75.92 391.70,70.55 391.90,47.55 392.10,55.53 392.30,50.88 392.50,54.95 392.70,59.19 392.90,69.60 393.10,77.75 393.30,70.57 393.50,74.89 393.70,68.82 393.90,61.62 394.10,53.50 394.30,50.66 394.50,49.61 394.70,55.02 394.90,64.29 395.10,73.85 395.30,82.72 395.50,85.05 395.70,75.52 395.90,66.86 396.10,47.73 396.30,40.73 396.50,41.40 396.70,52.49 396.90,57.57 397.10,75.35 397.30,80.55 397.50,80.59 397.70,76.37 397.90,65.65 398.10,56.51 398.30,47.80 398.50,48.93 398.70,52.37 398.90,60.21 399.10,68.98 399.30,76.30 399.50,81.64 399.70,77.84 399.90,70.14 400.10,59.27 400.30,63.93 400.50,61.22 400.70,55.26 400.90,65.01 401.10,46.41 401.30,68.06 401.50,70.95 401.70,74.51 401.90,65.50 402.10,70.43 402.30,71.87 402.50,75.27 402.70,69.80 402.90,69.02 403.10,80.57 403.30,59.90 403.50,50.30 403.70,49.96 403.90,49.96 404.10,60.27 404.30,81.64 404.50,79.43 404.70,69.88 404.90,78.38 405.10,61.22 405.30,55.76 405.50,63.78 405.70,55.98 405.90,59.65 406.10,50.11 406.30,61.99 406.50,73.39 406.70,63.53 406.90,68.09 407.10,58.67 407.30,56.25 407.50,60.22 407.70,67.89 407.90,86.18 408.10,85.96 408.30,79.30 408.50,70.81 408.70,57.13 408.90,44.14 409.10,44.33 409.30,58.17 409.50,78.10 409.70,82.58 409.90,74.11 410.10,65.32 410.30,68.30 410.50,60.62 410.70,57.76 410.90,52.85 411.10,72.03 411.30,61.04 411.50,57.65 411.70,51.99 411.90,56.25 412.10,68.44 412.30,68.85 412.50,75.02 412.70,69.81 412.90,69.45 413.10,65.45 413.30,69.80 413.50,66.55 413.70,53.68 413.90,55.91 414.10,48.68 414.30,58.86 414.50,76.15 414.70,66.19 414.90,65.19 415.10,72.76 415.30,76.07 415.50,57.15 415.70,57.63 415.90,54.89 416.10,71.91 416.30,61.32 416.50,83.91 416.70,81.83 416.90,73.77 417.10,83.57 417.30,73.05 417.50,59.25 417.70,47.55 417.90,47.71 418.10,58.89 418.30,61.14 418.50,70.05 418.70,74.96 418.90,73.58 419.10,71.47 419.30,58.55 419.50,51.42 419.70,48.76 419.90,51.48 420.10,67.09 420.30,70.84 420.50,72.55 420.70,80.50 420.90,78.33 421.10,70.34 421.30,65.44 421.50,58.45 421.70,54.08 421.90,47.55 422.10,49.44 422.30,56.54 422.50,69.34 422.70,75.65 422.90,81.64 423.10,77.64 423.30,75.05 423.50,67.58 423.70,62.46 423.90,54.58 424.10,54.77 424.30,56.30 424.50,61.86 424.70,65.41 424.90,73.90 425.10,77.26 425.30,74.90 425.50,66.51 425.70,60.17 425.90,56.53 426.10,47.13 426.30,44.83 426.50,57.34 426.70,78.30 426.90,85.48 427.10,96.41 427.30,87.17 427.50,70.99 427.70,49.10 427.90,35.05 428.10,39.50 428.30,44.30 428.50,60.62 428.70,68.22 428.90,73.15 429.10,68.44 429.30,79.36 429.50,66.77 429.70,73.65 429.90,61.44 430.10,54.28 430.30,65.75 430.50,75.13 430.70,56.01 430.90,55.90 431.10,61.59 431.30,57.33 431.50,66.81 431.70,56.38 431.90,52.47 432.10,58.12 432.30,61.45 432.50,59.81 432.70,64.50 432.90,79.36 433.10,65.56 433.30,64.80 433.50,61.35 433.70,49.82 433.90,52.51 434.10,53.07 434.30,60.34 434.50,61.96 434.70,76.14 434.90,77.74 435.10,79.53 435.30,82.77 435.50,64.31 435.70,57.94 435.90,51.50 436.10,47.84 436.30,51.31 436.50,63.79 436.70,67.66 436.90,75.57 437.10,78.87 437.30,74.78 437.50,70.12 437.70,65.25 437.90,55.71 438.10,48.67 438.30,40.73 438.50,67.21 438.70,63.71 438.90,76.17 439.10,57.29 439.30,64.84 439.50,59.81 439.70,53.90 439.90,58.57 440.10,75.42 440.30,67.65 440.50,70.73 440.70,62.64 440.90,59.62 441.10,53.54 441.30,53.99 441.50,59.43 441.70,58.53 441.90,76.96 442.10,76.52 442.30,76.88 442.50,66.50 442.70,61.41 442.90,55.25 443.10,58.23 443.30,63.81 443.50,86.18 443.70,77.60 443.90,75.46 444.10,79.21 444.30,70.54 444.50,62.06 444.70,40.73 444.90,53.39 445.10,58.00 445.30,69.14 445.50,70.91 445.70,70.68 445.90,44.43 446.10,69.22 446.30,58.36 446.50,66.15 446.70,72.01 446.90,76.43 447.10,75.84 447.30,60.88 447.50,61.71 447.70,49.96 447.90,53.39 448.10,56.21 448.30,61.44 448.50,72.85 448.70,72.46 448.90,67.55 449.10,70.73 449.30,57.47 449.50,61.70 449.70,56.64 449.90,64.48 450.10,62.32 450.30,68.62 450.50,67.85 450.70,70.74 450.90,60.39 451.10,70.62 451.30,61.64 451.50,63.05 451.70,63.48 451.90,70.21 452.10,62.41 452.30,60.88 452.50,60.93 452.70,56.79 452.90,56.96 453.10,53.91 453.30,68.96 453.50,68.54 453.70,76.65 453.90,83.71 454.10,83.95 454.30,63.39 454.50,53.25 454.70,43.00 454.90,53.36 455.10,63.64 455.30,79.64 455.50,78.32 455.70,86.18 455.90,75.50 456.10,60.11 456.30,46.41 456.50,48.60 456.70,59.13 456.90,62.96 457.10,79.45 457.30,83.74 457.50,75.42 457.70,74.21 457.90,54.48 458.10,32.77 458.30,54.05 458.50,50.74 458.70,49.90 458.90,61.93 459.10,73.20 459.30,81.00 459.50,85.05 459.70,84.84 459.90,78.73 460.10,60.44 460.30,49.19 460.50,51.17 460.70,46.41 460.90,53.36 461.10,58.18 461.30,75.47 461.50,80.17 461.70,72.99 461.90,66.58 462.10,57.54 462.30,48.97 462.50,57.46 462.70,59.24 462.90,71.39 463.10,71.48 463.30,74.00 463.50,70.75 463.70,63.25 463.90,61.74 464.10,59.86 464.30,61.57 464.50,71.53 464.70,65.36 464.90,72.64 465.10,62.74 465.30,59.17 465.50,59.91 465.70,60.42 465.90,64.14 466.10,65.92 466.30,72.61 466.50,72.46 466.70,72.46 466.90,64.83 467.10,59.74 467.30,57.83 467.50,57.83 467.70,59.42 467.90,63.70 468.10,64.80 468.30,68.64 468.50,71.93 468.70,71.59 468.90,67.66 469.10,60.23 469.30,56.51 469.50,54.46 469.70,60.32 469.90,61.09 470.10,58.23 470.30,64.19 470.50,63.93 470.70,73.15 470.90,70.01 471.10,68.90 471.30,70.41 471.50,69.80 471.70,73.33 471.90,46.41 472.10,54.97 472.30,61.86 472.50,51.31 472.70,58.10 472.90,60.13 473.10,68.95 473.30,76.81 473.50,78.92 473.70,72.85 473.90,67.11 474.10,63.11 474.30,57.36 474.50,51.44 474.70,52.87 474.90,51.51 475.10,54.54 475.30,63.53 475.50,73.83 475.70,82.01 475.90,85.96 476.10,85.96 476.30,57.29 476.50,54.10 476.70,49.66 476.90,38.45 477.10,43.92 477.30,62.34 477.50,64.68 477.70,79.25 477.90,71.26 478.10,52.41 478.30,50.38 478.50,56.36 478.70,50.91 478.90,53.84 479.10,72.87 479.30,89.59 479.50,61.72 479.70,69.21 479.90,65.70 480.10,55.62 480.30,52.21 480.50,56.92 480.70,61.83 480.90,80.52 481.10,78.72 481.30,68.78 481.50,68.25 481.70,56.93 481.90,54.36 482.10,53.31 482.30,52.82 482.50,62.84 482.70,69.49 482.90,72.55 483.10,73.76 483.30,79.21 483.50,63.06 483.70,62.51 483.90,59.50 484.10,51.31 484.30,54.48 484.50,37.32 484.70,51.22 484.90,51.66 485.10,70.85 485.30,73.35 485.50,73.72 485.70,86.18 485.90,80.52 486.10,69.99 486.30,56.66 486.50,52.65 486.70,48.69 486.90,51.25 487.10,49.96 487.30,51.81 487.50,64.01 487.70,68.62 487.90,71.14 488.10,75.71 488.30,70.18 488.50,63.23 488.70,58.09 488.90,58.86 489.10,55.19 489.30,61.86 489.50,63.56 489.70,59.60 489.90,75.19 490.10,67.94 490.30,65.16 490.50,62.14 490.70,62.45 490.90,57.98 491.10,68.49 491.30,74.88 491.50,67.94 491.70,77.45 491.90,67.31 492.10,64.13 492.30,61.71 492.50,56.01 492.70,53.17 492.90,51.14 493.10,63.36 493.30,72.11 493.50,85.96 493.70,85.32 493.90,87.90 494.10,71.41 494.30,54.50 494.50,30.50 494.70,30.84 494.90,40.62 495.10,50.74 495.30,73.95 495.50,99.20 495.70,100.59 495.90,77.00 496.10,64.50 496.30,63.76 496.50,30.17 496.70,22.55 496.90,55.51 497.10,59.62 497.30,102.09 497.50,89.68 497.70,81.87 497.90,60.44 498.10,51.00 498.30,44.19 498.50,41.15 498.70,58.41 498.90,50.89 499.10,78.81 499.30,74.32 499.50,80.83 499.70,76.46 499.90,57.22 500.10,44.62 500.30,36.18 500.50,36.46 500.70,58.71 500.90,60.38 501.10,70.29 501.30,79.08 501.50,79.42 501.70,65.67 501.90,64.10 502.10,65.85 502.30,59.64 502.50,62.09 502.70,69.26 502.90,86.18 503.10,78.57 503.30,60.77 503.50,63.24 503.70,53.80 503.90,46.41 504.10,50.64 504.30,62.57 504.50,80.68 504.70,77.45 504.90,83.71 505.10,77.50 505.30,71.24 505.50,65.16 505.70,49.89 505.90,53.13 506.10,53.24 506.30,59.88 506.50,72.36 506.70,72.93 506.90,74.40 507.10,66.72 507.30,62.94 507.50,60.57 507.70,55.59 507.90,57.30 508.10,60.38 508.30,68.01 508.50,69.52 508.70,74.86 508.90,69.79 509.10,69.05 509.30,61.12 509.50,58.48 509.70,56.16 509.90,57.59 510.10,62.59 510.30,68.68 510.50,77.09 510.70,76.96 510.90,66.84 511.10,63.75 511.30,66.48 511.50,50.95 511.70,57.65 511.90,53.80 512.10,58.97 512.30,65.24 512.50,65.99 512.70,86.18 512.90,73.57 513.10,71.53 513.30,63.17 513.50,63.97 513.70,68.63 513.90,71.85 514.10,50.95 514.30,78.29 514.50,62.52 514.70,61.04 514.90,62.60 515.10,56.92 515.30,55.89 515.50,65.30 515.70,62.90 515.90,57.49 516.10,78.19 516.30,72.17 516.50,70.72 516.70,56.00 516.90,63.59 517.10,59.00 517.30,57.73 517.50,65.81 517.70,69.07 517.90,74.67 518.10,75.53 518.30,70.73 518.50,63.90 518.70,60.90 518.90,55.68 519.10,54.16 519.30,54.44 519.50,66.72 519.70,68.06 519.90,77.99 520.10,78.23 520.30,74.84 520.50,62.57 520.70,58.04 520.90,59.60 521.10,52.09 521.30,59.51 521.50,66.73 521.70,72.83 521.90,68.91 522.10,69.24 522.30,57.39 522.50,56.93 522.70,52.09 522.90,61.09 523.10,73.77 523.30,65.05 523.50,79.36 523.70,72.66 523.90,69.67 524.10,72.77 524.30,59.31 524.50,71.53 524.70,55.40 524.90,63.99 525.10,55.29 525.30,54.10 525.50,63.48 525.70,65.50 525.90,59.59 526.10,69.46 526.30,73.46 526.50,77.09 526.70,76.96 526.90,61.61 527.10,52.09 527.30,61.68 527.50,63.02 527.70,60.06 527.90,61.08 528.10,61.96 528.30,65.98 528.50,71.25 528.70,59.14 528.90,67.19 529.10,62.83 529.30,74.82 529.50,67.25 529.70,67.38 529.90,64.58 530.10,56.52 530.30,49.82 530.50,59.77 530.70,61.53 530.90,71.50 531.10,72.62 531.30,71.26 531.50,67.99 531.70,59.00 531.90,58.85 532.10,58.96 532.30,58.96 532.50,62.74 532.70,66.42 532.90,67.96 533.10,67.70 533.30,67.96 533.50,65.41 533.70,65.32 533.90,61.35 534.10,60.18 534.30,59.82 534.50,60.08" stroke="#0072BD" stroke-width="0.8" fill="none" stroke-linejoin="round"/>
<text x="53.20" y="129.10" font-size="12.4" text-anchor="middle">0</text>
<text x="121.91" y="129.10" font-size="12.4" text-anchor="middle">0.05</text>
<text x="190.63" y="129.10" font-size="12.4" text-anchor="middle">0.1</text>
<text x="259.34" y="129.10" font-size="12.4" text-anchor="middle">0.15</text>
<text x="328.06" y="129.10" font-size="12.4" text-anchor="middle">0.2</text>
<text x="396.77" y="129.10" font-size="12.4" text-anchor="middle">0.25</text>
<text x="465.49" y="129.10" font-size="12.4" text-anchor="middle">0.3</text>
<text x="534.20" y="129.10" font-size="12.4" text-anchor="middle">0.35</text>
<text x="49.5" y="24.10" font-size="12.4" text-anchor="end">100</text>
<text x="49.5" y="67.60" font-size="12.4" text-anchor="end">0</text>
<text x="49.5" y="111.10" font-size="12.4" text-anchor="end">-100</text>
<text x="294" y="13.50" font-size="13.8" font-weight="bold" text-anchor="middle" class="t">Inner ring raceway defect 1mm, kurtosis = 3.5634</text>
<text transform="translate(18.2,67.50) rotate(-90)" font-size="14.1" text-anchor="middle">Acceleration (m/s<tspan font-size="10.2" dy="-6.5">2</tspan><tspan dy="6.5">)</tspan></text>
<path d="M122.50,159.5V253.5 M190.50,159.5V253.5 M259.50,159.5V253.5 M328.50,159.5V253.5 M397.50,159.5V253.5 M465.50,159.5V253.5 M53.5,206.50H534.5" stroke="#e8e8e8" stroke-width="1" fill="none"/>
<path d="M122.50,253.5v-5M122.50,159.5v5 M190.50,253.5v-5M190.50,159.5v5 M259.50,253.5v-5M259.50,159.5v5 M328.50,253.5v-5M328.50,159.5v5 M397.50,253.5v-5M397.50,159.5v5 M465.50,253.5v-5M465.50,159.5v5 M53.5,159.50h5M534.5,159.50h-5 M53.5,206.50h5M534.5,206.50h-5 M53.5,253.50h5M534.5,253.50h-5" stroke="#262626" stroke-width="1" fill="none"/>
<rect x="53.5" y="159.5" width="481.0" height="94.0" stroke="#262626" stroke-width="1" fill="none"/>
<clipPath id="p2c"><rect x="53.0" y="159.0" width="482.0" height="95.0"/></clipPath>
<path clip-path="url(#p2c)" d="M53.85,205.50 54.55,208.52 55.25,204.59 55.95,208.57 56.65,205.23 57.35,207.23 58.05,205.60 58.75,207.22 59.45,205.54 60.15,207.31 60.85,204.97 61.55,207.41 62.25,202.96 62.95,210.21 63.65,202.28 64.35,209.79 65.05,204.74 65.75,207.57 66.45,203.61 67.15,209.49 67.85,204.19 68.55,207.70 69.25,205.75 69.95,207.83 70.65,204.78 71.35,209.06 72.05,203.90 72.75,208.53 73.45,204.88 74.15,210.33 74.85,202.23 75.55,209.20 76.25,203.20 76.95,208.52 77.65,205.02 78.35,207.46 79.05,205.88 79.75,208.50 80.45,204.68 81.15,207.62 81.85,205.29 82.55,208.36 83.25,204.51 83.95,207.93 84.65,204.25 85.35,209.34 86.05,203.28 86.75,207.94 87.45,203.58 88.15,209.16 88.85,205.65 89.55,208.20 90.25,204.73 90.95,207.60 91.65,204.02 92.35,208.02 93.05,205.28 93.75,208.75 94.45,203.18 95.15,210.15 95.85,202.96 96.55,208.08 97.25,205.48 97.95,207.77 98.65,205.78 99.35,207.06 100.05,205.43 100.75,207.34 101.45,205.13 102.15,208.20 102.85,202.41 103.55,210.39 104.25,201.67 104.95,208.96 105.65,200.16 106.35,210.87 107.05,200.18 107.75,211.33 108.45,203.04 109.15,208.35 109.85,203.08 110.55,209.78 111.25,204.73 111.95,209.36 112.65,202.51 113.35,210.01 114.05,202.41 114.75,211.73 115.45,202.10 116.15,209.65 116.85,203.05 117.55,208.91 118.25,204.78 118.95,207.93 119.65,203.96 120.35,209.63 121.05,203.49 121.75,212.11 122.45,204.84 123.15,208.68 123.85,203.67 124.55,209.33 125.25,204.69 125.95,208.05 126.65,202.41 127.35,208.58 128.05,204.78 128.75,208.56 129.45,203.85 130.15,211.29 130.85,204.22 131.55,210.28 132.25,204.61 132.95,208.09 133.65,205.00 134.35,207.69 135.05,205.78 135.75,207.21 136.45,205.60 137.15,207.46 137.85,205.11 138.55,207.02 139.25,205.98 139.95,207.55 140.65,205.09 141.35,208.09 142.05,205.58 142.75,208.04 143.45,204.84 144.15,209.45 144.85,203.67 145.55,207.62 146.25,205.13 146.95,207.79 147.65,204.85 148.35,209.55 149.05,203.82 149.75,209.95 150.45,205.22 151.15,210.69 151.85,205.18 152.55,209.32 153.25,204.33 153.95,207.40 154.65,205.04 155.35,210.45 156.05,204.41 156.75,214.82 157.45,202.83 158.15,211.32 158.85,204.26 159.55,208.81 160.25,204.91 160.95,208.23 161.65,204.09 162.35,209.28 163.05,203.68 163.75,209.64 164.45,202.84 165.15,215.34 165.85,200.43 166.55,210.55 167.25,203.73 167.95,209.25 168.65,201.90 169.35,209.94 170.05,202.49 170.75,207.26 171.45,204.56 172.15,207.89 172.85,205.82 173.55,207.33 174.25,204.96 174.95,211.23 175.65,202.89 176.35,207.99 177.05,200.85 177.75,209.18 178.45,203.40 179.15,208.73 179.85,203.85 180.55,208.99 181.25,203.89 181.95,208.13 182.65,205.90 183.35,208.25 184.05,204.87 184.75,208.15 185.45,201.62 186.15,212.54 186.85,203.19 187.55,213.16 188.25,200.91 188.95,209.40 189.65,205.10 190.35,208.85 191.05,204.95 191.75,208.07 192.45,204.67 193.15,207.15 193.85,206.31 194.55,207.79 195.25,205.16 195.95,207.91 196.65,205.29 197.35,207.07 198.05,205.77 198.75,208.13 199.45,205.21 200.15,207.76 200.85,202.91 201.55,208.21 202.25,204.22 202.95,208.08 203.65,205.13 204.35,209.56 205.05,204.15 205.75,209.58 206.45,202.98 207.15,209.27 207.85,203.66 208.55,208.95 209.25,204.32 209.95,207.50 210.65,205.50 211.35,208.23 212.05,204.32 212.75,207.10 213.45,205.93 214.15,208.46 214.85,204.19 215.55,208.36 216.25,204.91 216.95,207.49 217.65,205.11 218.35,208.00 219.05,205.28 219.75,207.57 220.45,205.66 221.15,209.29 221.85,203.52 222.55,209.62 223.25,202.06 223.95,209.38 224.65,204.00 225.35,208.26 226.05,204.31 226.75,208.84 227.45,203.78 228.15,207.53 228.85,205.65 229.55,208.41 230.25,204.29 230.95,208.98 231.65,204.95 232.35,208.57 233.05,201.84 233.75,207.67 234.45,203.39 235.15,208.80 235.85,204.72 236.55,207.57 237.25,203.65 237.95,210.38 238.65,204.74 239.35,208.22 240.05,203.86 240.75,209.75 241.45,202.77 242.15,209.15 242.85,204.55 243.55,208.66 244.25,203.40 244.95,206.98 245.65,205.38 246.35,206.72 247.05,205.74 247.75,206.48 248.45,205.98 249.15,206.54 249.85,206.29 250.55,206.68 251.25,206.09 251.95,207.48 252.65,205.37 253.35,209.50 254.05,205.13 254.75,207.57 255.45,204.52 256.15,208.14 256.85,205.12 257.55,207.98 258.25,205.91 258.95,207.94 259.65,205.28 260.35,207.20 261.05,204.39 261.75,208.04 262.45,203.44 263.15,209.86 263.85,204.68 264.55,209.38 265.25,203.67 265.95,209.73 266.65,203.11 267.35,207.80 268.05,204.10 268.75,209.25 269.45,203.95 270.15,208.53 270.85,204.81 271.55,207.67 272.25,203.26 272.95,208.81 273.65,203.98 274.35,207.87 275.05,203.20 275.75,212.36 276.45,202.61 277.15,210.08 277.85,201.84 278.55,210.62 279.25,201.73 279.95,210.26 280.65,202.38 281.35,210.93 282.05,203.41 282.75,209.66 283.45,203.89 284.15,209.02 284.85,200.77 285.55,210.89 286.25,204.62 286.95,210.74 287.65,202.10 288.35,209.00 289.05,202.39 289.75,209.91 290.45,204.61 291.15,209.54 291.85,202.35 292.55,208.36 293.25,205.13 293.95,209.37 294.65,205.70 295.35,207.21 296.05,205.31 296.75,206.85 297.45,205.42 298.15,206.96 298.85,205.43 299.55,207.02 300.25,206.19 300.95,207.46 301.65,205.64 302.35,207.61 303.05,205.40 303.75,208.04 304.45,205.15 305.15,208.45 305.85,202.16 306.55,209.82 307.25,202.12 307.95,208.39 308.65,205.38 309.35,210.79 310.05,203.34 310.75,208.47 311.45,202.92 312.15,208.72 312.85,203.32 313.55,209.74 314.25,204.32 314.95,208.88 315.65,202.77 316.35,211.27 317.05,201.28 317.75,213.54 318.45,202.80 319.15,214.00 319.85,202.44 320.55,211.08 321.25,202.73 321.95,210.21 322.65,203.69 323.35,207.27 324.05,204.54 324.75,207.94 325.45,204.74 326.15,207.92 326.85,204.56 327.55,207.76 328.25,205.41 328.95,207.84 329.65,205.41 330.35,208.26 331.05,202.90 331.75,209.58 332.45,203.54 333.15,209.59 333.85,205.00 334.55,209.45 335.25,204.01 335.95,208.88 336.65,204.00 337.35,209.15 338.05,202.01 338.75,208.98 339.45,203.80 340.15,208.57 340.85,203.64 341.55,210.13 342.25,203.81 342.95,208.49 343.65,205.63 344.35,208.37 345.05,205.36 345.75,207.96 346.45,205.00 347.15,208.08 347.85,204.66 348.55,211.97 349.25,202.23 349.95,210.51 350.65,201.91 351.35,211.03 352.05,201.01 352.75,210.25 353.45,202.78 354.15,208.00 354.85,202.23 355.55,208.59 356.25,203.18 356.95,207.61 357.65,204.87 358.35,207.77 359.05,204.68 359.75,209.03 360.45,204.91 361.15,209.89 361.85,202.75 362.55,209.21 363.25,203.40 363.95,209.04 364.65,202.73 365.35,207.70 366.05,203.50 366.75,207.30 367.45,204.51 368.15,207.47 368.85,204.61 369.55,207.74 370.25,204.73 370.95,209.24 371.65,204.36 372.35,207.38 373.05,205.06 373.75,207.60 374.45,205.38 375.15,207.59 375.85,204.53 376.55,208.22 377.25,205.25 377.95,207.78 378.65,204.41 379.35,207.87 380.05,204.65 380.75,207.64 381.45,203.94 382.15,208.68 382.85,204.62 383.55,208.28 384.25,202.57 384.95,208.48 385.65,201.97 386.35,208.46 387.05,202.03 387.75,208.81 388.45,202.33 389.15,211.44 389.85,203.48 390.55,210.09 391.25,204.68 391.95,207.80 392.65,204.96 393.35,209.58 394.05,204.20 394.75,209.93 395.45,204.15 396.15,213.28 396.85,202.57 397.55,211.60 398.25,200.58 398.95,211.18 399.65,204.38 400.35,209.25 401.05,203.50 401.75,208.05 402.45,204.09 403.15,209.39 403.85,202.18 404.55,211.61 405.25,198.60 405.95,210.26 406.65,200.66 407.35,210.82 408.05,199.06 408.75,208.59 409.45,203.34 410.15,208.12 410.85,199.83 411.55,212.30 412.25,202.14 412.95,210.59 413.65,204.51 414.35,208.34 415.05,201.19 415.75,211.58 416.45,201.12 417.15,208.51 417.85,204.83 418.55,210.05 419.25,203.10 419.95,209.30 420.65,203.44 421.35,210.33 422.05,204.35 422.75,208.46 423.45,203.12 424.15,208.86 424.85,203.47 425.55,208.33 426.25,203.75 426.95,207.64 427.65,204.56 428.35,208.85 429.05,203.13 429.75,209.49 430.45,205.03 431.15,209.41 431.85,204.62 432.55,209.36 433.25,202.53 433.95,211.06 434.65,204.20 435.35,209.57 436.05,203.63 436.75,210.97 437.45,201.33 438.15,213.11 438.85,203.91 439.55,211.10 440.25,200.47 440.95,208.28 441.65,204.21 442.35,208.31 443.05,203.54 443.75,209.03 444.45,204.88 445.15,210.14 445.85,203.83 446.55,209.34 447.25,201.98 447.95,209.56 448.65,203.55 449.35,210.43 450.05,201.41 450.75,211.26 451.45,203.62 452.15,209.10 452.85,205.51 453.55,207.60 454.25,205.44 454.95,208.02 455.65,205.50 456.35,207.95 457.05,205.42 457.75,208.16 458.45,204.74 459.15,208.06 459.85,203.54 460.55,208.85 461.25,205.65 461.95,208.05 462.65,204.46 463.35,207.24 464.05,204.22 464.75,207.62 465.45,204.48 466.15,209.50 466.85,201.23 467.55,211.61 468.25,203.75 468.95,212.33 469.65,202.05 470.35,208.69 471.05,203.28 471.75,210.80 472.45,204.04 473.15,211.42 473.85,204.40 474.55,209.03 475.25,202.92 475.95,207.65 476.65,204.62 477.35,208.67 478.05,205.11 478.75,209.12 479.45,205.79 480.15,208.21 480.85,205.43 481.55,207.54 482.25,204.68 482.95,207.61 483.65,203.16 484.35,209.88 485.05,203.31 485.75,209.23 486.45,200.54 487.15,210.85 487.85,202.80 488.55,209.94 489.25,205.24 489.95,208.56 490.65,205.37 491.35,208.06 492.05,204.02 492.75,207.90 493.45,204.93 494.15,208.30 494.85,204.65 495.55,209.13 496.25,204.76 496.95,209.05 497.65,205.67 498.35,208.34 499.05,205.16 499.75,208.54 500.45,203.42 501.15,208.74 501.85,204.00 502.55,209.12 503.25,204.06 503.95,211.00 504.65,200.10 505.35,212.02 506.05,203.46 506.75,208.96 507.45,200.78 508.15,211.91 508.85,201.56 509.55,213.19 510.25,202.87 510.95,208.83 511.65,201.32 512.35,210.64 513.05,202.68 513.75,211.66 514.45,203.12 515.15,209.65 515.85,203.47 516.55,207.73 517.25,204.82 517.95,208.04 518.65,204.48 519.35,208.27 520.05,203.01 520.75,208.58 521.45,204.17 522.15,208.83 522.85,204.50 523.55,209.00 524.25,202.09 524.95,209.52 525.65,201.80 526.35,209.72 527.05,202.19 527.75,208.23 528.45,203.29 529.15,212.00 529.85,203.94 530.55,210.64 531.25,199.48 531.95,212.11 532.65,204.06 533.35,213.23 534.05,203.42" stroke="#0072BD" stroke-width="0.6" fill="none" stroke-linejoin="round"/>
<path clip-path="url(#p2c)" d="M53.50,196.87 53.70,201.01 53.90,212.40 54.10,213.75 54.30,214.07 54.50,216.00 54.70,206.75 54.90,197.71 55.10,197.60 55.30,191.09 55.50,191.09 55.70,204.87 55.90,207.20 56.10,213.20 56.30,217.59 56.50,219.50 56.70,211.08 56.90,205.26 57.10,211.56 57.30,201.39 57.50,202.91 57.70,206.26 57.90,206.97 58.10,208.81 58.30,209.61 58.50,207.47 58.70,202.34 58.90,206.21 59.10,202.62 59.30,204.52 59.50,208.45 59.70,210.20 59.90,211.31 60.10,211.32 60.30,207.53 60.50,202.96 60.70,202.75 60.90,199.12 61.10,203.12 61.30,204.87 61.50,209.60 61.70,213.54 61.90,211.93 62.10,222.91 62.30,206.12 62.50,201.73 62.70,203.94 62.90,192.23 63.10,196.97 63.30,186.55 63.50,204.27 63.70,214.28 63.90,222.91 64.10,222.75 64.30,220.26 64.50,215.32 64.70,207.55 64.90,200.11 65.10,197.25 65.30,196.58 65.50,206.10 65.70,208.33 65.90,213.13 66.10,215.87 66.30,219.50 66.50,214.76 66.70,204.05 66.90,201.47 67.10,199.38 67.30,192.23 67.50,198.62 67.70,204.36 67.90,206.74 68.10,211.98 68.30,210.08 68.50,210.35 68.70,210.76 68.90,209.95 69.10,200.97 69.30,202.24 69.50,200.21 69.70,203.41 69.90,203.29 70.10,207.48 70.30,209.06 70.50,210.14 70.70,213.12 70.90,211.60 71.10,206.56 71.30,202.63 71.50,198.58 71.70,197.80 71.90,198.71 72.10,204.40 72.30,211.10 72.50,216.53 72.70,217.12 72.90,214.55 73.10,206.63 73.30,205.14 73.50,204.32 73.70,191.09 73.90,201.35 74.10,204.58 74.30,206.28 74.50,207.39 74.70,220.71 74.90,222.91 75.10,215.08 75.30,215.98 75.50,214.43 75.70,207.32 75.90,195.54 76.10,200.49 76.30,195.56 76.50,197.31 76.70,205.69 76.90,207.16 77.10,213.32 77.30,215.43 77.50,215.07 77.70,207.91 77.90,207.10 78.10,203.35 78.30,202.13 78.50,198.89 78.70,201.97 78.90,207.54 79.10,212.04 79.30,214.21 79.50,211.14 79.70,207.78 79.90,207.41 80.10,189.95 80.30,190.12 80.50,202.57 80.70,208.14 80.90,213.94 81.10,215.51 81.30,217.27 81.50,219.50 81.70,199.18 81.90,200.09 82.10,194.87 82.30,196.26 82.50,205.42 82.70,205.06 82.90,203.88 83.10,202.38 83.30,204.66 83.50,205.86 83.70,204.96 83.90,210.21 84.10,212.98 84.30,214.62 84.50,213.79 84.70,216.09 84.90,207.23 85.10,198.14 85.30,194.50 85.50,194.62 85.70,200.52 85.90,212.41 86.10,208.75 86.30,212.38 86.50,207.83 86.70,210.82 86.90,210.30 87.10,209.13 87.30,209.72 87.50,214.47 87.70,208.72 87.90,194.50 88.10,199.84 88.30,208.32 88.50,218.36 88.70,208.13 88.90,207.91 89.10,200.62 89.30,200.27 89.50,199.05 89.70,196.87 89.90,196.87 90.10,207.66 90.30,209.95 90.50,214.07 90.70,214.21 90.90,214.42 91.10,207.55 91.30,204.23 91.50,191.09 91.70,201.68 91.90,201.73 92.10,206.59 92.30,210.12 92.50,213.47 92.70,195.97 92.90,193.93 93.10,206.31 93.30,203.60 93.50,220.05 93.70,220.54 93.90,213.34 94.10,197.70 94.30,214.21 94.50,212.64 94.70,197.35 94.90,222.91 95.10,203.03 95.30,200.57 95.50,200.77 95.70,196.03 95.90,189.95 96.10,210.22 96.30,210.57 96.50,213.38 96.70,216.00 96.90,216.00 97.10,201.91 97.30,204.52 97.50,207.94 97.70,205.32 97.90,204.01 98.10,204.68 98.30,208.64 98.50,208.16 98.70,208.50 98.90,208.70 99.10,208.03 99.30,208.96 99.50,201.57 99.70,202.07 99.90,201.32 100.10,201.37 100.30,205.98 100.50,209.66 100.70,208.36 100.90,209.66 101.10,208.53 101.30,207.42 101.50,200.40 101.70,203.14 101.90,206.94 102.10,207.89 102.30,213.53 102.50,211.46 102.70,224.31 102.90,222.51 103.10,192.61 103.30,198.77 103.50,184.27 103.70,184.50 103.90,213.05 104.10,230.86 104.30,217.30 104.50,205.57 104.70,207.20 104.90,197.95 105.10,195.41 105.30,192.75 105.50,195.90 105.70,222.75 105.90,222.58 106.10,215.11 106.30,221.01 106.50,198.63 106.70,189.76 106.90,197.31 107.10,211.93 107.30,243.36 107.50,205.26 107.70,217.90 107.90,227.28 108.10,211.18 108.30,172.91 108.50,173.25 108.70,180.12 108.90,183.82 109.10,221.18 109.30,219.19 109.50,218.72 109.70,221.47 109.90,214.67 110.10,198.58 110.30,187.32 110.50,192.25 110.70,190.97 110.90,192.17 111.10,211.39 111.30,223.43 111.50,219.46 111.70,219.43 111.90,205.68 112.10,206.82 112.30,208.16 112.50,190.25 112.70,203.29 112.90,197.51 113.10,188.82 113.30,196.29 113.50,201.55 113.70,204.98 113.90,215.34 114.10,227.45 114.30,223.26 114.50,218.98 114.70,209.87 114.90,200.04 115.10,196.40 115.30,189.98 115.50,190.36 115.70,208.96 115.90,209.86 116.10,219.23 116.30,223.87 116.50,215.84 116.70,213.98 116.90,207.81 117.10,203.20 117.30,195.91 117.50,194.59 117.70,198.06 117.90,201.46 118.10,209.52 118.30,215.03 118.50,221.77 118.70,218.08 118.90,215.66 119.10,204.69 119.30,193.70 119.50,189.77 119.70,189.00 119.90,189.00 120.10,214.25 120.30,215.02 120.50,236.55 120.70,230.70 120.90,229.79 121.10,207.78 121.30,203.54 121.50,204.37 121.70,178.59 121.90,207.25 122.10,220.04 122.30,193.73 122.50,202.46 122.70,209.07 122.90,205.18 123.10,220.34 123.30,225.00 123.50,211.23 123.70,222.14 123.90,206.05 124.10,198.55 124.30,190.12 124.50,194.99 124.70,205.22 124.90,222.91 125.10,208.83 125.30,199.54 125.50,195.72 125.70,202.21 125.90,211.25 126.10,209.38 126.30,216.36 126.50,214.61 126.70,208.27 126.90,198.27 127.10,193.93 127.30,191.75 127.50,195.84 127.70,206.79 127.90,221.62 128.10,221.62 128.30,217.82 128.50,212.05 128.70,197.18 128.90,196.17 129.10,189.95 129.30,194.27 129.50,199.53 129.70,209.91 129.90,215.37 130.10,225.18 130.30,222.98 130.50,209.92 130.70,209.16 130.90,196.16 131.10,192.23 131.30,193.04 131.50,197.53 131.70,205.74 131.90,220.38 132.10,220.50 132.30,216.45 132.50,208.84 132.70,209.30 132.90,205.01 133.10,203.01 133.30,199.98 133.50,206.03 133.70,207.85 133.90,205.58 134.10,211.42 134.30,208.30 134.50,210.12 134.70,211.49 134.90,209.40 135.10,208.61 135.30,204.88 135.50,203.04 135.70,202.31 135.90,203.62 136.10,205.04 136.30,208.01 136.50,208.99 136.70,208.21 136.90,210.37 137.10,206.57 137.30,206.33 137.50,203.81 137.70,201.32 137.90,203.90 138.10,206.83 138.30,209.16 138.50,208.41 138.70,207.67 138.90,205.62 139.10,203.09 139.30,201.66 139.50,203.68 139.70,206.39 139.90,212.56 140.10,213.08 140.30,213.20 140.50,209.03 140.70,207.55 140.90,200.27 141.10,200.25 141.30,201.95 141.50,200.69 141.70,205.54 141.90,210.10 142.10,212.87 142.30,208.71 142.50,205.71 142.70,208.49 142.90,214.32 143.10,212.43 143.30,207.69 143.50,193.36 143.70,197.29 143.90,195.07 144.10,194.43 144.30,204.08 144.50,210.63 144.70,217.06 144.90,220.64 145.10,214.07 145.30,209.24 145.50,202.28 145.70,206.35 145.90,202.66 146.10,196.08 146.30,199.95 146.50,199.31 146.70,214.34 146.90,213.26 147.10,218.36 147.30,211.76 147.50,211.57 147.70,200.35 147.90,193.36 148.10,195.35 148.30,211.07 148.50,199.15 148.70,203.34 148.90,210.92 149.10,210.49 149.30,206.72 149.50,205.10 149.70,215.06 149.90,226.32 150.10,214.18 150.30,213.39 150.50,198.96 150.70,212.64 150.90,193.05 151.10,192.23 151.30,195.14 151.50,192.37 151.70,201.29 151.90,203.42 152.10,214.75 152.30,215.69 152.50,219.37 152.70,216.41 152.90,210.07 153.10,207.01 153.30,200.09 153.50,196.06 153.70,199.61 153.90,200.41 154.10,202.61 154.30,210.64 154.50,209.38 154.70,213.62 154.90,215.82 155.10,218.99 155.30,219.38 155.50,207.70 155.70,200.43 155.90,194.50 156.10,195.79 156.30,197.96 156.50,206.15 156.70,208.09 156.90,235.41 157.10,208.42 157.30,196.51 157.50,180.86 157.70,192.19 157.90,209.11 158.10,198.67 158.30,222.55 158.50,221.71 158.70,220.97 158.90,215.97 159.10,193.39 159.30,191.75 159.50,196.00 159.70,194.24 159.90,202.27 160.10,204.34 160.30,212.97 160.50,216.34 160.70,215.35 160.90,212.01 161.10,206.02 161.30,204.36 161.50,196.90 161.70,193.80 161.90,191.25 162.10,202.31 162.30,216.00 162.50,215.15 162.70,215.48 162.90,209.81 163.10,195.94 163.30,186.55 163.50,213.91 163.70,196.25 163.90,202.42 164.10,205.77 164.30,202.29 164.50,231.71 164.70,203.17 164.90,237.68 165.10,202.35 165.30,194.07 165.50,175.18 165.70,205.17 165.90,222.50 166.10,204.64 166.30,222.91 166.50,206.29 166.70,223.45 166.90,219.66 167.10,194.22 167.30,196.17 167.50,185.75 167.70,201.25 167.90,187.78 168.10,207.10 168.30,207.59 168.50,220.50 168.70,219.18 168.90,217.08 169.10,210.25 169.30,195.07 169.50,194.23 169.70,187.99 169.90,189.02 170.10,186.55 170.30,207.19 170.50,202.23 170.70,208.70 170.90,208.36 171.10,211.39 171.30,206.06 171.50,213.73 171.70,211.31 171.90,206.95 172.10,207.82 172.30,202.79 172.50,202.44 172.70,207.34 172.90,205.35 173.10,209.96 173.30,209.03 173.50,208.18 173.70,193.51 173.90,200.08 174.10,203.32 174.30,204.56 174.50,187.68 174.70,229.85 174.90,227.99 175.10,230.86 175.30,230.62 175.50,220.28 175.70,196.61 175.90,195.49 176.10,202.35 176.30,195.89 176.50,201.12 176.70,197.40 176.90,219.75 177.10,215.54 177.30,206.75 177.50,201.34 177.70,183.14 177.90,199.33 178.10,211.81 178.30,230.04 178.50,230.19 178.70,235.41 178.90,226.69 179.10,209.12 179.30,192.20 179.50,187.74 179.70,195.38 179.90,196.62 180.10,204.05 180.30,213.77 180.50,220.50 180.70,216.13 180.90,209.75 181.10,205.10 181.30,201.47 181.50,200.64 181.70,196.87 181.90,200.66 182.10,206.21 182.30,209.14 182.50,211.59 182.70,209.92 182.90,211.47 183.10,206.30 183.30,201.62 183.50,199.86 183.70,196.87 183.90,201.89 184.10,202.72 184.30,206.53 184.50,211.03 184.70,214.78 184.90,210.95 185.10,209.85 185.30,205.98 185.50,194.68 185.70,185.57 185.90,182.00 186.10,195.36 186.30,214.54 186.50,249.05 186.70,248.62 186.90,248.62 187.10,213.04 187.30,174.05 187.50,205.94 187.70,210.98 187.90,202.91 188.10,211.29 188.30,221.08 188.50,210.57 188.70,211.41 188.90,209.85 189.10,202.49 189.30,208.29 189.50,194.33 189.70,204.90 189.90,195.72 190.10,197.37 190.30,206.34 190.50,208.25 190.70,213.79 190.90,213.75 191.10,212.16 191.30,210.05 191.50,202.15 191.70,199.51 191.90,196.77 192.10,199.41 192.30,203.97 192.50,207.88 192.70,210.19 192.90,210.64 193.10,206.29 193.30,208.17 193.50,205.13 193.70,204.13 193.90,205.37 194.10,205.47 194.30,207.17 194.50,212.68 194.70,210.65 194.90,210.01 195.10,204.44 195.30,201.82 195.50,202.84 195.70,203.06 195.90,206.71 196.10,210.66 196.30,211.43 196.50,211.75 196.70,209.41 196.90,205.71 197.10,201.80 197.30,200.18 197.50,201.96 197.70,204.14 197.90,207.21 198.10,210.29 198.30,213.75 198.50,212.50 198.70,206.90 198.90,206.42 199.10,195.75 199.30,189.95 199.50,207.63 199.70,208.02 199.90,211.76 200.10,214.86 200.30,218.60 200.50,206.52 200.70,203.94 200.90,195.42 201.10,197.70 201.30,205.89 201.50,209.36 201.70,218.91 201.90,220.64 202.10,216.43 202.30,206.12 202.50,197.33 202.70,198.62 202.90,201.92 203.10,209.29 203.30,213.28 203.50,211.12 203.70,217.12 203.90,200.66 204.10,205.36 204.30,193.36 204.50,194.41 204.70,201.91 204.90,198.57 205.10,203.58 205.30,205.99 205.50,207.76 205.70,215.58 205.90,218.36 206.10,214.35 206.30,213.31 206.50,204.03 206.70,197.54 206.90,194.50 207.10,199.59 207.30,208.20 207.50,209.80 207.70,217.12 207.90,213.75 208.10,209.35 208.30,201.11 208.50,199.24 208.70,199.66 208.90,205.21 209.10,206.87 209.30,213.49 209.50,209.56 209.70,210.73 209.90,200.91 210.10,199.00 210.30,202.95 210.50,206.14 210.70,211.03 210.90,213.82 211.10,212.22 211.30,212.05 211.50,211.88 211.70,206.55 211.90,202.21 212.10,196.24 212.30,194.50 212.50,204.04 212.70,206.64 212.90,209.18 213.10,211.67 213.30,210.29 213.50,209.86 213.70,206.27 213.90,209.64 214.10,197.91 214.30,202.90 214.50,201.11 214.70,200.44 214.90,211.19 215.10,212.60 215.30,207.02 215.50,213.82 215.70,212.09 215.90,206.80 216.10,208.87 216.30,205.45 216.50,206.40 216.70,205.89 216.90,200.39 217.10,197.91 217.30,202.69 217.50,199.86 217.70,203.23 217.90,210.66 218.10,212.78 218.30,217.23 218.50,215.78 218.70,206.87 218.90,204.53 219.10,197.91 219.30,206.52 219.50,204.57 219.70,208.38 219.90,209.35 220.10,207.34 220.30,216.00 220.50,208.18 220.70,210.42 220.90,205.97 221.10,198.48 221.30,200.75 221.50,197.88 221.70,203.14 221.90,210.36 222.10,215.45 222.30,217.12 222.50,216.81 222.70,208.99 222.90,201.43 223.10,202.53 223.30,191.09 223.50,193.93 223.70,209.45 223.90,214.55 224.10,213.45 224.30,218.36 224.50,214.37 224.70,208.06 224.90,203.68 225.10,200.60 225.30,199.50 225.50,206.57 225.70,208.53 225.90,202.71 226.10,214.80 226.30,209.96 226.50,205.18 226.70,205.02 226.90,194.50 227.10,204.18 227.30,206.29 227.50,216.09 227.70,209.99 227.90,208.93 228.10,209.60 228.30,200.66 228.50,199.23 228.70,196.87 228.90,197.07 229.10,205.33 229.30,211.20 229.50,212.36 229.70,213.83 229.90,211.64 230.10,207.93 230.30,203.10 230.50,196.51 230.70,194.18 230.90,204.23 231.10,206.85 231.30,218.09 231.50,218.36 231.70,215.35 231.90,205.14 232.10,197.78 232.30,192.61 232.50,189.95 232.70,196.50 232.90,203.41 233.10,220.55 233.30,226.32 233.50,217.55 233.70,209.93 233.90,205.00 234.10,195.02 234.30,189.95 234.50,194.91 234.70,198.35 234.90,207.82 235.10,206.91 235.30,213.59 235.50,211.36 235.70,213.57 235.90,207.27 236.10,211.23 236.30,203.25 236.50,209.46 236.70,204.20 236.90,203.19 237.10,203.38 237.30,194.56 237.50,204.13 237.70,203.09 237.90,217.51 238.10,219.88 238.30,221.24 238.50,209.26 238.70,198.57 238.90,193.19 239.10,186.55 239.30,198.99 239.50,196.93 239.70,212.22 239.90,224.05 240.10,220.32 240.30,217.84 240.50,200.58 240.70,194.01 240.90,193.50 241.10,198.39 241.30,205.85 241.50,214.47 241.70,213.96 241.90,215.89 242.10,211.78 242.30,206.97 242.50,200.66 242.70,195.57 242.90,195.40 243.10,203.44 243.30,209.00 243.50,213.59 243.70,213.91 243.90,211.09 244.10,203.49 244.30,199.24 244.50,194.50 244.70,198.68 244.90,206.52 245.10,208.92 245.30,208.82 245.50,209.24 245.70,205.58 245.90,205.62 246.10,205.06 246.30,201.70 246.50,205.20 246.70,204.81 246.90,206.22 247.10,205.79 247.30,206.54 247.50,206.32 247.70,206.29 247.90,206.29 248.10,206.12 248.30,206.41 248.50,206.43 248.70,205.41 248.90,205.19 249.10,204.75 249.30,205.27 249.50,206.61 249.70,206.75 249.90,208.06 250.10,208.12 250.30,207.75 250.50,206.61 250.70,206.83 250.90,206.12 251.10,204.75 251.30,205.86 251.50,206.28 251.70,209.70 251.90,210.28 252.10,208.31 252.30,205.83 252.50,202.26 252.70,193.36 252.90,202.27 253.10,215.17 253.30,214.22 253.50,209.79 253.70,193.36 253.90,212.16 254.10,208.84 254.30,206.05 254.50,212.70 254.70,219.50 254.90,211.05 255.10,203.59 255.30,207.23 255.50,210.17 255.70,206.24 255.90,210.22 256.10,200.84 256.30,200.25 256.50,201.54 256.70,208.07 256.90,202.05 257.10,212.12 257.30,211.80 257.50,211.56 257.70,209.04 257.90,210.92 258.10,206.30 258.30,204.14 258.50,202.30 258.70,199.32 258.90,199.05 259.10,203.56 259.30,207.85 259.50,212.68 259.70,209.08 259.90,211.35 260.10,211.78 260.30,206.85 260.50,202.08 260.70,202.46 260.90,204.17 261.10,198.25 261.30,205.05 261.50,209.95 261.70,209.41 261.90,218.36 262.10,206.63 262.30,202.08 262.50,192.82 262.70,202.75 262.90,208.55 263.10,217.09 263.30,218.36 263.50,216.97 263.70,211.11 263.90,205.33 264.10,191.09 264.30,194.83 264.50,196.42 264.70,198.92 264.90,205.58 265.10,212.08 265.30,216.65 265.50,210.71 265.70,213.39 265.90,204.17 266.10,211.68 266.30,219.50 266.50,207.91 266.70,200.59 266.90,202.22 267.10,196.17 267.30,195.75 267.50,191.09 267.70,206.42 267.90,213.16 268.10,217.12 268.30,217.12 268.50,205.91 268.70,199.90 268.90,203.75 269.10,194.53 269.30,196.74 269.50,204.92 269.70,210.35 269.90,209.85 270.10,219.50 270.30,216.91 270.50,210.14 270.70,204.14 270.90,201.27 271.10,192.23 271.30,197.71 271.50,211.81 271.70,209.27 271.90,213.84 272.10,203.94 272.30,214.78 272.50,207.36 272.70,199.16 272.90,202.28 273.10,202.90 273.30,206.86 273.50,207.16 273.70,213.85 273.90,213.19 274.10,212.95 274.30,214.33 274.50,198.49 274.70,195.73 274.90,189.43 275.10,191.49 275.30,205.86 275.50,223.61 275.70,220.31 275.90,235.41 276.10,216.82 276.30,189.76 276.50,194.20 276.70,187.97 276.90,205.79 277.10,216.46 277.30,230.32 277.50,212.77 277.70,209.36 277.90,193.89 278.10,182.00 278.30,188.53 278.50,199.19 278.70,214.39 278.90,220.79 279.10,222.02 279.30,220.86 279.50,205.40 279.70,189.00 279.90,189.00 280.10,189.00 280.30,196.78 280.50,212.19 280.70,219.05 280.90,213.94 281.10,212.57 281.30,209.67 281.50,202.00 281.70,208.49 281.90,204.02 282.10,211.30 282.30,209.59 282.50,200.65 282.70,201.70 282.90,180.86 283.10,181.12 283.30,201.19 283.50,181.12 283.70,229.73 283.90,228.38 284.10,217.50 284.30,229.50 284.50,194.84 284.70,188.80 284.90,198.46 285.10,201.24 285.30,208.46 285.50,214.85 285.70,206.34 285.90,208.90 286.10,199.93 286.30,192.96 286.50,191.10 286.70,195.85 286.90,222.48 287.10,230.86 287.30,230.50 287.50,224.39 287.70,219.15 287.90,199.48 288.10,191.64 288.30,191.34 288.50,190.12 288.70,208.53 288.90,213.35 289.10,210.65 289.30,217.95 289.50,222.14 289.70,207.03 289.90,193.95 290.10,188.82 290.30,189.48 290.50,191.74 290.70,212.22 290.90,215.08 291.10,210.24 291.30,222.59 291.50,212.04 291.70,216.42 291.90,197.65 292.10,205.04 292.30,202.36 292.50,213.98 292.70,212.11 292.90,196.50 293.10,204.21 293.30,206.03 293.50,204.42 293.70,208.99 293.90,221.77 294.10,217.26 294.30,210.25 294.50,205.35 294.70,199.81 294.90,201.17 295.10,203.30 295.30,204.67 295.50,209.37 295.70,211.49 295.90,211.49 296.10,208.69 296.30,207.28 296.50,206.13 296.70,204.26 296.90,203.73 297.10,203.82 297.30,205.31 297.50,209.23 297.70,206.79 297.90,210.41 298.10,207.36 298.30,208.56 298.50,204.82 298.70,202.45 298.90,207.81 299.10,203.29 299.30,204.55 299.50,206.77 299.70,206.61 299.90,208.65 300.10,208.36 300.30,209.28 300.50,206.81 300.70,205.85 300.90,204.25 301.10,205.16 301.30,202.49 301.50,202.49 301.70,205.51 301.90,208.14 302.10,209.88 302.30,208.15 302.50,207.01 302.70,210.41 302.90,212.41 303.10,202.11 303.30,202.13 303.50,202.55 303.70,204.28 303.90,213.69 304.10,211.63 304.30,213.49 304.50,204.87 304.70,192.39 304.90,193.57 305.10,201.41 305.30,189.00 305.50,202.23 305.70,220.53 305.90,227.45 306.10,223.83 306.30,206.19 306.50,185.41 306.70,205.56 306.90,201.65 307.10,215.71 307.30,217.72 307.50,209.59 307.70,209.76 307.90,200.85 308.10,194.18 308.30,195.60 308.50,203.52 308.70,206.61 308.90,217.57 309.10,220.56 309.30,222.13 309.50,223.66 309.70,227.45 309.90,201.46 310.10,201.60 310.30,193.36 310.50,186.55 310.70,194.07 310.90,205.83 311.10,222.77 311.30,215.49 311.50,220.34 311.70,219.17 311.90,215.80 312.10,193.36 312.30,198.64 312.50,201.03 312.70,203.98 312.90,212.37 313.10,222.91 313.30,207.39 313.50,201.20 313.70,199.08 313.90,197.72 314.10,199.99 314.30,210.39 314.50,212.55 314.70,210.75 314.90,210.72 315.10,205.67 315.30,197.46 315.50,188.01 315.70,194.24 315.90,199.51 316.10,213.56 316.30,221.05 316.50,226.57 316.70,227.56 316.90,215.82 317.10,200.36 317.30,180.46 317.50,179.73 317.70,189.59 317.90,201.43 318.10,222.96 318.30,234.27 318.50,229.44 318.70,219.36 318.90,202.40 319.10,194.43 319.30,182.25 319.50,198.13 319.70,216.46 319.90,207.35 320.10,213.56 320.30,207.43 320.50,202.36 320.70,214.28 320.90,214.12 321.10,211.77 321.30,225.18 321.50,201.27 321.70,182.56 321.90,175.18 322.10,175.50 322.30,189.30 322.50,208.30 322.70,217.98 322.90,216.66 323.10,213.81 323.30,202.17 323.50,203.05 323.70,209.99 323.90,206.10 324.10,206.53 324.30,211.40 324.50,206.88 324.70,208.81 324.90,201.95 325.10,204.26 325.30,197.91 325.50,209.80 325.70,206.96 325.90,209.99 326.10,202.03 326.30,203.00 326.50,201.25 326.70,205.50 326.90,213.21 327.10,214.87 327.30,214.87 327.50,214.11 327.70,205.34 327.90,198.68 328.10,198.43 328.30,198.71 328.50,206.33 328.70,207.56 328.90,215.07 329.10,211.05 329.30,205.78 329.50,205.44 329.70,204.08 329.90,204.19 330.10,202.98 330.30,211.55 330.50,219.50 330.70,214.02 330.90,212.88 331.10,196.58 331.30,199.17 331.50,204.53 331.70,200.38 331.90,205.06 332.10,211.58 332.30,216.08 332.50,213.91 332.70,209.48 332.90,200.21 333.10,194.75 333.30,191.09 333.50,196.66 333.70,198.14 333.90,209.34 334.10,217.39 334.30,217.67 334.50,219.50 334.70,212.99 334.90,197.89 335.10,197.74 335.30,191.09 335.50,202.51 335.70,207.24 335.90,215.70 336.10,212.96 336.30,213.39 336.50,209.11 336.70,201.74 336.90,193.42 337.10,194.90 337.30,197.40 337.50,212.51 337.70,215.86 337.90,213.47 338.10,219.50 338.30,189.95 338.50,204.92 338.70,204.51 338.90,205.46 339.10,205.49 339.30,206.65 339.50,194.58 339.70,198.18 339.90,196.25 340.10,206.82 340.30,213.63 340.50,203.94 340.70,218.25 340.90,216.65 341.10,206.47 341.30,203.14 341.50,212.38 341.70,204.96 341.90,201.71 342.10,201.19 342.30,204.43 342.50,200.15 342.70,211.78 342.90,217.15 343.10,221.77 343.30,220.23 343.50,221.62 343.70,202.32 343.90,195.64 344.10,201.17 344.30,200.17 344.50,203.65 344.70,207.96 344.90,209.43 345.10,211.92 345.30,211.90 345.50,209.85 345.70,199.12 345.90,202.75 346.10,203.73 346.30,202.06 346.50,209.70 346.70,211.47 346.90,206.82 347.10,201.68 347.30,200.07 347.50,208.95 347.70,197.93 347.90,196.90 348.10,198.94 348.30,219.47 348.50,229.50 348.70,226.57 348.90,229.65 349.10,225.31 349.30,204.87 349.50,182.84 349.70,182.35 349.90,180.86 350.10,202.04 350.30,200.16 350.50,219.50 350.70,230.86 350.90,229.74 351.10,223.25 351.30,209.12 351.50,204.40 351.70,184.50 351.90,195.45 352.10,210.82 352.30,206.92 352.50,208.07 352.70,216.62 352.90,207.62 353.10,219.54 353.30,216.03 353.50,186.55 353.70,202.67 353.90,195.21 354.10,195.52 354.30,193.68 354.50,199.68 354.70,203.36 354.90,195.51 355.10,211.11 355.30,210.83 355.50,210.17 355.70,213.91 355.90,215.17 356.10,202.47 356.30,193.85 356.50,194.16 356.70,203.81 356.90,200.93 357.10,203.15 357.30,216.01 357.50,216.51 357.70,215.43 357.90,208.44 358.10,197.30 358.30,186.55 358.50,189.84 358.70,193.84 358.90,205.69 359.10,212.94 359.30,215.85 359.50,214.06 359.70,202.35 359.90,198.55 360.10,201.62 360.30,195.59 360.50,213.20 360.70,215.55 360.90,214.36 361.10,224.05 361.30,206.15 361.50,194.20 361.70,194.74 361.90,209.21 362.10,212.88 362.30,218.14 362.50,214.82 362.70,210.25 362.90,211.56 363.10,195.42 363.30,189.95 363.50,199.97 363.70,210.01 363.90,213.31 364.10,218.36 364.30,212.15 364.50,207.74 364.70,201.32 364.90,201.30 365.10,191.25 365.30,191.68 365.50,213.09 365.70,208.96 365.90,211.43 366.10,213.88 366.30,207.62 366.50,204.68 366.70,202.39 366.90,203.84 367.10,206.62 367.30,206.16 367.50,202.67 367.70,200.60 367.90,205.37 368.10,206.52 368.30,206.56 368.50,213.33 368.70,210.66 368.90,212.01 369.10,213.71 369.30,201.52 369.50,202.88 369.70,199.03 369.90,199.88 370.10,210.84 370.30,216.99 370.50,215.38 370.70,218.36 370.90,206.31 371.10,203.36 371.30,197.91 371.50,204.59 371.70,202.22 371.90,205.63 372.10,215.81 372.30,210.96 372.50,214.97 372.70,208.70 372.90,208.04 373.10,199.29 373.30,197.91 373.50,201.12 373.70,205.23 373.90,206.09 374.10,212.29 374.30,210.91 374.50,206.86 374.70,204.07 374.90,198.17 375.10,198.28 375.30,198.00 375.50,206.80 375.70,206.24 375.90,213.07 376.10,206.48 376.30,201.13 376.50,197.61 376.70,205.47 376.90,202.30 377.10,196.77 377.30,209.04 377.50,208.10 377.70,210.61 377.90,216.09 378.10,212.46 378.30,209.62 378.50,202.56 378.70,198.30 378.90,199.07 379.10,198.79 379.30,207.75 379.50,209.86 379.70,210.76 379.90,214.50 380.10,211.09 380.30,206.57 380.50,202.46 380.70,198.80 380.90,194.62 381.10,196.56 381.30,200.25 381.50,207.22 381.70,223.24 381.90,226.32 382.10,222.46 382.30,211.22 382.50,204.63 382.70,193.47 382.90,194.28 383.10,192.22 383.30,201.45 383.50,210.78 383.70,206.14 383.90,207.38 384.10,211.27 384.30,207.22 384.50,187.68 384.70,218.25 384.90,200.69 385.10,208.96 385.30,210.67 385.50,210.88 385.70,209.53 385.90,190.12 386.10,201.36 386.30,198.37 386.50,194.43 386.70,200.32 386.90,208.39 387.10,214.40 387.30,222.75 387.50,213.21 387.70,216.42 387.90,213.33 388.10,194.29 388.30,191.09 388.50,194.01 388.70,202.91 388.90,206.01 389.10,223.46 389.30,226.32 389.50,219.70 389.70,209.31 389.90,201.63 390.10,187.68 390.30,188.73 390.50,193.82 390.70,199.30 390.90,203.43 391.10,212.64 391.30,216.72 391.50,220.50 391.70,214.50 391.90,212.36 392.10,201.67 392.30,197.27 392.50,194.13 392.70,192.94 392.90,205.67 393.10,205.47 393.30,219.06 393.50,212.79 393.70,205.06 393.90,194.77 394.10,202.84 394.30,198.45 394.50,200.26 394.70,208.91 394.90,221.53 395.10,225.00 395.30,225.13 395.50,213.93 395.70,215.69 395.90,183.14 396.10,184.22 396.30,209.55 396.50,199.85 396.70,188.69 396.90,192.96 397.10,200.49 397.30,232.00 397.50,220.24 397.70,209.43 397.90,214.38 398.10,211.90 398.30,196.84 398.50,185.41 398.70,188.61 398.90,191.54 399.10,193.68 399.30,213.87 399.50,222.76 399.70,215.94 399.90,223.87 400.10,207.66 400.30,205.41 400.50,191.62 400.70,200.15 400.90,193.82 401.10,204.40 401.30,213.68 401.50,220.63 401.70,220.03 401.90,217.49 402.10,209.15 402.30,192.36 402.50,191.92 402.70,191.77 402.90,212.47 403.10,225.18 403.30,223.38 403.50,214.13 403.70,209.70 403.90,218.27 404.10,195.23 404.30,197.92 404.50,202.15 404.70,192.09 404.90,178.59 405.10,205.97 405.30,213.76 405.50,226.70 405.70,230.86 405.90,225.74 406.10,228.75 406.30,193.24 406.50,199.89 406.70,181.76 406.90,213.17 407.10,192.57 407.30,219.71 407.50,219.12 407.70,207.66 407.90,194.07 408.10,198.20 408.30,202.36 408.50,179.73 408.70,209.39 408.90,221.15 409.10,215.41 409.30,194.22 409.50,195.03 409.70,187.04 409.90,186.54 410.10,204.14 410.30,207.28 410.50,222.72 410.70,218.44 410.90,209.79 411.10,215.46 411.30,198.16 411.50,198.05 411.70,197.16 411.90,218.40 412.10,233.14 412.30,211.84 412.50,214.91 412.70,191.98 412.90,182.00 413.10,194.73 413.30,198.98 413.50,217.42 413.70,225.18 413.90,225.00 414.10,225.00 414.30,212.54 414.50,211.06 414.70,200.50 414.90,198.83 415.10,190.44 415.30,204.32 415.50,204.72 415.70,195.77 415.90,179.73 416.10,201.52 416.30,205.17 416.50,216.84 416.70,225.18 416.90,219.19 417.10,212.52 417.30,206.92 417.50,197.86 417.70,189.00 417.90,200.08 418.10,203.13 418.30,211.51 418.50,207.22 418.70,211.82 418.90,198.59 419.10,202.97 419.30,196.59 419.50,196.92 419.70,208.47 419.90,209.68 420.10,218.83 420.30,222.91 420.50,214.00 420.70,200.05 420.90,191.09 421.10,197.08 421.30,197.44 421.50,210.36 421.70,212.02 421.90,218.25 422.10,215.22 422.30,207.37 422.50,203.91 422.70,199.19 422.90,196.83 423.10,204.86 423.30,211.05 423.50,215.68 423.70,214.68 423.90,207.96 424.10,205.13 424.30,198.83 424.50,193.36 424.70,194.77 424.90,200.53 425.10,211.24 425.30,217.97 425.50,218.36 425.70,215.40 425.90,208.52 426.10,199.58 426.30,196.55 426.50,198.90 426.70,199.24 426.90,210.19 427.10,213.91 427.30,215.96 427.50,214.30 427.70,208.84 427.90,207.05 428.10,205.53 428.30,200.44 428.50,211.54 428.70,212.97 428.90,210.30 429.10,205.00 429.30,200.60 429.50,199.74 429.70,199.94 429.90,203.46 430.10,206.40 430.30,220.50 430.50,220.50 430.70,217.67 430.90,217.59 431.10,202.65 431.30,192.69 431.50,195.15 431.70,191.25 431.90,214.02 432.10,208.24 432.30,208.30 432.50,203.82 432.70,209.78 432.90,202.57 433.10,203.42 433.30,207.49 433.50,225.64 433.70,226.32 433.90,211.12 434.10,209.23 434.30,206.37 434.50,196.94 434.70,189.95 434.90,206.36 435.10,193.44 435.30,193.43 435.50,198.22 435.70,206.37 435.90,210.50 436.10,226.12 436.30,218.75 436.50,200.94 436.70,191.76 436.90,177.45 437.10,199.37 437.30,204.79 437.50,206.35 437.70,204.70 437.90,215.91 438.10,236.55 438.30,197.14 438.50,192.07 438.70,187.27 438.90,191.23 439.10,200.25 439.30,211.16 439.50,225.00 439.70,225.00 439.90,221.45 440.10,215.04 440.30,201.82 440.50,192.12 440.70,184.27 440.90,184.50 441.10,198.71 441.30,207.08 441.50,215.60 441.70,213.41 441.90,212.70 442.10,213.57 442.30,208.94 442.50,205.32 442.70,198.27 442.90,198.07 443.10,198.03 443.30,206.51 443.50,201.56 443.70,214.63 443.90,217.28 444.10,213.89 444.30,210.70 444.50,188.82 444.70,196.53 444.90,196.58 445.10,193.70 445.30,200.93 445.50,217.27 445.70,221.51 445.90,220.18 446.10,213.70 446.30,197.56 446.50,192.58 446.70,189.15 446.90,187.65 447.10,196.67 447.30,197.16 447.50,208.88 447.70,215.50 447.90,198.35 448.10,226.50 448.30,215.25 448.50,222.89 448.70,237.68 448.90,216.67 449.10,200.12 449.30,185.40 449.50,193.61 449.70,178.59 449.90,193.05 450.10,201.69 450.30,227.17 450.50,222.91 450.70,220.66 450.90,201.99 451.10,206.43 451.30,199.66 451.50,206.76 451.70,211.70 451.90,215.01 452.10,207.72 452.30,217.12 452.50,217.12 452.70,204.86 452.90,205.11 453.10,197.73 453.30,198.95 453.50,204.74 453.70,207.21 453.90,208.92 454.10,208.13 454.30,211.22 454.50,208.52 454.70,204.84 454.90,210.51 455.10,208.80 455.30,206.54 455.50,200.22 455.70,197.91 455.90,199.85 456.10,205.33 456.30,210.90 456.50,212.23 456.70,215.48 456.90,206.49 457.10,202.71 457.30,196.87 457.50,196.87 457.70,203.91 457.90,209.37 458.10,211.76 458.30,217.23 458.50,217.12 458.70,209.29 458.90,202.31 459.10,199.10 459.30,195.64 459.50,201.16 459.70,203.77 459.90,207.53 460.10,211.32 460.30,208.13 460.50,208.84 460.70,207.00 460.90,214.63 461.10,209.21 461.30,212.07 461.50,211.87 461.70,207.80 461.90,205.40 462.10,199.12 462.30,199.12 462.50,199.12 462.70,201.06 462.90,207.15 463.10,211.59 463.30,214.95 463.50,213.98 463.70,206.23 463.90,204.08 464.10,205.55 464.30,202.61 464.50,199.70 464.70,204.13 464.90,197.91 465.10,207.46 465.30,202.85 465.50,204.56 465.70,209.72 465.90,211.42 466.10,211.62 466.30,222.75 466.50,198.97 466.70,186.74 466.90,188.79 467.10,186.35 467.30,217.20 467.50,216.95 467.70,218.02 467.90,232.00 468.10,198.11 468.30,196.01 468.50,199.90 468.70,184.27 468.90,189.61 469.10,210.23 469.30,208.83 469.50,216.22 469.70,216.78 469.90,225.00 470.10,195.55 470.30,192.00 470.50,191.86 470.70,189.30 470.90,194.71 471.10,207.27 471.30,216.28 471.50,217.23 471.70,221.22 471.90,218.40 472.10,216.86 472.30,202.04 472.50,191.02 472.70,194.89 472.90,200.74 473.10,209.26 473.30,215.38 473.50,224.05 473.70,198.94 473.90,210.93 474.10,213.66 474.30,200.57 474.50,204.04 474.70,211.99 474.90,220.50 475.10,220.23 475.30,200.16 475.50,208.07 475.70,209.57 475.90,194.71 476.10,206.78 476.30,207.09 476.50,198.76 476.70,200.02 476.90,198.63 477.10,215.13 477.30,211.14 477.50,218.36 477.70,210.51 477.90,209.79 478.10,204.53 478.30,203.21 478.50,200.72 478.70,202.24 478.90,209.08 479.10,212.29 479.30,213.11 479.50,208.61 479.70,206.76 479.90,198.00 480.10,199.40 480.30,198.00 480.50,204.53 480.70,212.83 480.90,216.24 481.10,216.37 481.30,214.53 481.50,207.95 481.70,203.34 481.90,193.50 482.10,193.50 482.30,205.43 482.50,205.74 482.70,208.63 482.90,214.18 483.10,212.63 483.30,204.52 483.50,199.45 483.70,202.99 483.90,192.09 484.10,205.61 484.30,201.11 484.50,222.97 484.70,225.18 484.90,213.70 485.10,196.92 485.30,191.77 485.50,187.68 485.70,197.86 485.90,190.73 486.10,222.99 486.30,211.95 486.50,225.18 486.70,220.32 486.90,219.04 487.10,209.38 487.30,177.45 487.50,207.96 487.70,199.80 487.90,213.31 488.10,202.44 488.30,220.24 488.50,209.41 488.70,199.67 488.90,191.25 489.10,213.64 489.30,211.15 489.50,206.05 489.70,196.71 489.90,213.40 490.10,201.23 490.30,211.21 490.50,214.55 490.70,216.50 490.90,207.51 491.10,194.50 491.30,207.54 491.50,215.73 491.70,209.43 491.90,203.59 492.10,205.67 492.30,207.97 492.50,203.52 492.70,208.92 492.90,206.21 493.10,199.12 493.30,200.61 493.50,204.70 493.70,209.30 493.90,214.13 494.10,211.87 494.30,213.80 494.50,213.43 494.70,205.94 494.90,200.52 495.10,201.76 495.30,200.58 495.50,204.30 495.70,206.38 495.90,214.86 496.10,209.10 496.30,216.09 496.50,209.26 496.70,210.45 496.90,199.31 497.10,199.71 497.30,198.00 497.50,204.90 497.70,205.71 497.90,212.33 498.10,214.16 498.30,210.08 498.50,211.69 498.70,201.96 498.90,196.87 499.10,196.73 499.30,197.34 499.50,204.05 499.70,214.46 499.90,208.84 500.10,218.25 500.30,206.10 500.50,208.77 500.70,202.82 500.90,201.16 501.10,197.45 501.30,206.74 501.50,205.38 501.70,213.64 501.90,207.23 502.10,209.61 502.30,207.66 502.50,215.66 502.70,202.00 502.90,200.00 503.10,191.44 503.30,196.17 503.50,207.44 503.70,200.94 503.90,219.20 504.10,218.47 504.30,227.24 504.50,214.69 504.70,202.85 504.90,203.39 505.10,182.19 505.30,187.62 505.50,180.86 505.70,198.83 505.90,229.14 506.10,228.71 506.30,232.00 506.50,223.33 506.70,206.28 506.90,195.12 507.10,196.98 507.30,196.45 507.50,194.53 507.70,202.59 507.90,202.25 508.10,204.61 508.30,217.40 508.50,217.81 508.70,227.55 508.90,218.57 509.10,200.27 509.30,183.14 509.50,186.33 509.70,186.89 509.90,198.74 510.10,204.90 510.30,234.27 510.50,228.17 510.70,233.99 510.90,204.29 511.10,200.13 511.30,192.76 511.50,196.75 511.70,205.10 511.90,209.96 512.10,205.96 512.30,186.55 512.50,198.32 512.70,204.44 512.90,207.43 513.10,213.53 513.30,217.45 513.50,220.87 513.70,225.18 513.90,211.98 514.10,212.50 514.30,188.89 514.50,189.00 514.70,189.00 514.90,198.89 515.10,213.01 515.30,216.11 515.50,215.87 515.70,216.59 515.90,210.40 516.10,195.85 516.30,198.02 516.50,205.11 516.70,201.54 516.90,208.45 517.10,197.34 517.30,208.29 517.50,198.60 517.70,205.68 517.90,209.25 518.10,216.71 518.30,215.01 518.50,215.44 518.70,211.13 518.90,197.61 519.10,192.31 519.30,201.74 519.50,196.66 519.70,209.18 519.90,214.27 520.10,199.64 520.30,199.05 520.50,188.82 520.70,197.02 520.90,200.41 521.10,212.66 521.30,214.58 521.50,205.72 521.70,221.77 521.90,209.83 522.10,199.54 522.30,199.36 522.50,195.59 522.70,201.37 522.90,193.94 523.10,194.23 523.30,201.83 523.50,194.41 523.70,207.64 523.90,217.73 524.10,212.18 524.30,215.55 524.50,220.64 524.70,216.54 524.90,212.14 525.10,211.49 525.30,188.82 525.50,190.69 525.70,189.72 525.90,199.81 526.10,205.31 526.30,220.26 526.50,209.25 526.70,217.87 526.90,206.49 527.10,199.76 527.30,200.75 527.50,212.17 527.70,213.82 527.90,204.37 528.10,196.53 528.30,186.32 528.50,191.11 528.70,189.61 528.90,182.25 529.10,211.19 529.30,212.48 529.50,224.09 529.70,225.55 529.90,219.89 530.10,198.00 530.30,187.53 530.50,179.73 530.70,193.90 530.90,207.23 531.10,213.40 531.30,225.64 531.50,233.14 531.70,216.77 531.90,190.79 532.10,196.75 532.30,185.56 532.50,195.54 532.70,202.17 532.90,231.50 533.10,232.87 533.30,225.49 533.50,221.10 533.70,196.00 533.90,184.66 534.10,184.50 534.30,184.50 534.50,206.19" stroke="#0072BD" stroke-width="0.8" fill="none" stroke-linejoin="round"/>
<text x="53.20" y="268.10" font-size="12.4" text-anchor="middle">0</text>
<text x="121.91" y="268.10" font-size="12.4" text-anchor="middle">0.05</text>
<text x="190.63" y="268.10" font-size="12.4" text-anchor="middle">0.1</text>
<text x="259.34" y="268.10" font-size="12.4" text-anchor="middle">0.15</text>
<text x="328.06" y="268.10" font-size="12.4" text-anchor="middle">0.2</text>
<text x="396.77" y="268.10" font-size="12.4" text-anchor="middle">0.25</text>
<text x="465.49" y="268.10" font-size="12.4" text-anchor="middle">0.3</text>
<text x="534.20" y="268.10" font-size="12.4" text-anchor="middle">0.35</text>
<text x="49.5" y="163.10" font-size="12.4" text-anchor="end">100</text>
<text x="49.5" y="210.10" font-size="12.4" text-anchor="end">0</text>
<text x="49.5" y="257.10" font-size="12.4" text-anchor="end">-100</text>
<text x="294" y="152.50" font-size="13.8" font-weight="bold" text-anchor="middle" class="t">Healthy, kurtosis = 3.1029</text>
<text transform="translate(18.2,206.50) rotate(-90)" font-size="14.1" text-anchor="middle">Acceleration (m/s<tspan font-size="10.2" dy="-6.5">2</tspan><tspan dy="6.5">)</tspan></text>
<path d="M122.50,298.5V392.5 M190.50,298.5V392.5 M259.50,298.5V392.5 M328.50,298.5V392.5 M397.50,298.5V392.5 M465.50,298.5V392.5 M53.5,342.50H534.5 M53.5,386.50H534.5" stroke="#e8e8e8" stroke-width="1" fill="none"/>
<path d="M122.50,392.5v-5M122.50,298.5v5 M190.50,392.5v-5M190.50,298.5v5 M259.50,392.5v-5M259.50,298.5v5 M328.50,392.5v-5M328.50,298.5v5 M397.50,392.5v-5M397.50,298.5v5 M465.50,392.5v-5M465.50,298.5v5 M53.5,298.50h5M534.5,298.50h-5 M53.5,342.50h5M534.5,342.50h-5 M53.5,386.50h5M534.5,386.50h-5" stroke="#262626" stroke-width="1" fill="none"/>
<rect x="53.5" y="298.5" width="481.0" height="94.0" stroke="#262626" stroke-width="1" fill="none"/>
<clipPath id="p3c"><rect x="53.0" y="298.0" width="482.0" height="95.0"/></clipPath>
<path clip-path="url(#p3c)" d="M53.85,342.10 54.55,351.99 55.25,339.19 55.95,346.47 56.65,339.93 57.35,345.74 58.05,337.01 58.75,346.36 59.45,336.05 60.15,347.56 60.85,339.07 61.55,350.06 62.25,337.77 62.95,350.13 63.65,339.93 64.35,348.39 65.05,340.59 65.75,347.98 66.45,340.82 67.15,345.82 67.85,340.13 68.55,347.24 69.25,337.09 69.95,347.94 70.65,336.27 71.35,347.12 72.05,340.21 72.75,348.91 73.45,337.72 74.15,346.89 74.85,340.46 75.55,348.87 76.25,339.58 76.95,350.22 77.65,340.02 78.35,348.63 79.05,337.66 79.75,350.51 80.45,334.98 81.15,351.48 81.85,333.14 82.55,349.68 83.25,336.10 83.95,346.34 84.65,339.93 85.35,347.45 86.05,337.87 86.75,348.71 87.45,337.95 88.15,349.34 88.85,336.06 89.55,351.49 90.25,340.38 90.95,350.06 91.65,340.36 92.35,348.53 93.05,339.03 93.75,348.81 94.45,339.93 95.15,348.85 95.85,338.53 96.55,346.07 97.25,340.24 97.95,347.84 98.65,337.06 99.35,345.32 100.05,339.16 100.75,346.76 101.45,341.47 102.15,345.70 102.85,340.20 103.55,347.14 104.25,339.76 104.95,346.11 105.65,339.96 106.35,345.48 107.05,339.46 107.75,346.81 108.45,339.30 109.15,346.01 109.85,339.38 110.55,349.50 111.25,340.15 111.95,347.80 112.65,336.99 113.35,348.61 114.05,336.52 114.75,350.54 115.45,339.84 116.15,350.22 116.85,336.91 117.55,349.76 118.25,340.52 118.95,346.38 119.65,341.32 120.35,345.24 121.05,340.67 121.75,346.79 122.45,339.23 123.15,347.75 123.85,339.12 124.55,347.75 125.25,339.99 125.95,344.35 126.65,340.33 127.35,349.02 128.05,338.21 128.75,345.64 129.45,340.13 130.15,350.43 130.85,338.86 131.55,347.25 132.25,335.16 132.95,351.20 133.65,337.12 134.35,350.56 135.05,339.32 135.75,350.67 136.45,336.86 137.15,349.48 137.85,337.30 138.55,348.14 139.25,336.19 139.95,348.41 140.65,337.49 141.35,346.42 142.05,340.17 142.75,346.21 143.45,340.69 144.15,347.98 144.85,337.08 145.55,349.14 146.25,334.42 146.95,349.47 147.65,339.77 148.35,345.59 149.05,339.04 149.75,350.35 150.45,338.45 151.15,346.02 151.85,338.26 152.55,348.88 153.25,336.38 153.95,348.24 154.65,338.61 155.35,351.03 156.05,338.41 156.75,347.04 157.45,340.55 158.15,349.89 158.85,339.94 159.55,347.82 160.25,337.48 160.95,346.09 161.65,339.51 162.35,348.39 163.05,339.14 163.75,345.66 164.45,336.34 165.15,347.78 165.85,338.10 166.55,347.96 167.25,335.65 167.95,345.21 168.65,339.07 169.35,345.28 170.05,337.53 170.75,346.52 171.45,339.26 172.15,345.75 172.85,340.31 173.55,347.59 174.25,339.72 174.95,349.55 175.65,334.46 176.35,351.64 177.05,333.00 177.75,346.52 178.45,338.68 179.15,350.52 179.85,336.49 180.55,348.03 181.25,340.55 181.95,346.33 182.65,340.54 183.35,347.33 184.05,339.95 184.75,345.17 185.45,340.24 186.15,345.12 186.85,341.01 187.55,346.93 188.25,338.40 188.95,346.94 189.65,335.06 190.35,348.14 191.05,336.97 191.75,347.36 192.45,333.11 193.15,348.11 193.85,336.86 194.55,348.92 195.25,338.83 195.95,348.44 196.65,337.18 197.35,347.67 198.05,338.35 198.75,346.95 199.45,337.19 200.15,344.48 200.85,340.35 201.55,346.66 202.25,337.31 202.95,345.15 203.65,340.16 204.35,346.14 205.05,335.89 205.75,350.08 206.45,340.01 207.15,349.98 207.85,339.97 208.55,345.61 209.25,340.74 209.95,348.34 210.65,339.43 211.35,350.44 212.05,338.36 212.75,346.41 213.45,340.89 214.15,347.71 214.85,340.60 215.55,344.52 216.25,340.13 216.95,348.37 217.65,339.82 218.35,351.07 219.05,336.46 219.75,350.26 220.45,335.80 221.15,348.93 221.85,338.36 222.55,348.64 223.25,337.75 223.95,346.67 224.65,336.57 225.35,351.65 226.05,338.48 226.75,347.73 227.45,341.22 228.15,349.52 228.85,340.15 229.55,346.59 230.25,340.79 230.95,347.39 231.65,338.46 232.35,348.03 233.05,340.33 233.75,350.27 234.45,339.53 235.15,350.21 235.85,339.41 236.55,347.12 237.25,338.92 237.95,347.75 238.65,339.20 239.35,346.52 240.05,338.01 240.75,347.70 241.45,337.72 242.15,351.85 242.85,340.46 243.55,345.92 244.25,340.25 244.95,350.41 245.65,339.44 246.35,346.50 247.05,336.61 247.75,346.33 248.45,339.99 249.15,347.82 249.85,339.89 250.55,345.45 251.25,340.93 251.95,348.21 252.65,337.35 253.35,350.80 254.05,336.14 254.75,347.03 255.45,336.93 256.15,351.04 256.85,338.17 257.55,350.05 258.25,335.23 258.95,351.57 259.65,338.53 260.35,352.16 261.05,335.95 261.75,350.38 262.45,335.71 263.15,350.63 263.85,338.06 264.55,346.67 265.25,339.72 265.95,347.12 266.65,339.09 267.35,346.18 268.05,335.13 268.75,349.11 269.45,336.76 270.15,345.18 270.85,336.40 271.55,351.49 272.25,340.56 272.95,348.80 273.65,340.14 274.35,348.30 275.05,336.18 275.75,345.87 276.45,334.97 277.15,351.91 277.85,335.82 278.55,346.84 279.25,337.60 279.95,347.50 280.65,338.98 281.35,346.67 282.05,339.22 282.75,348.09 283.45,335.54 284.15,345.79 284.85,336.78 285.55,347.22 286.25,338.26 286.95,345.07 287.65,340.98 288.35,349.13 289.05,340.34 289.75,346.65 290.45,339.74 291.15,348.96 291.85,339.32 292.55,349.21 293.25,339.55 293.95,348.09 294.65,340.26 295.35,349.29 296.05,337.53 296.75,346.48 297.45,337.28 298.15,347.89 298.85,336.55 299.55,348.38 300.25,338.09 300.95,345.34 301.65,339.29 302.35,346.51 303.05,340.21 303.75,350.28 304.45,337.23 305.15,346.43 305.85,337.15 306.55,351.58 307.25,335.71 307.95,346.67 308.65,339.00 309.35,349.19 310.05,338.81 310.75,349.18 311.45,335.90 312.15,344.90 312.85,338.69 313.55,345.64 314.25,339.39 314.95,345.60 315.65,339.85 316.35,346.58 317.05,339.05 317.75,347.33 318.45,338.90 319.15,347.81 319.85,339.68 320.55,350.32 321.25,340.56 321.95,348.61 322.65,339.43 323.35,347.27 324.05,339.28 324.75,348.23 325.45,339.77 326.15,348.15 326.85,337.89 327.55,345.10 328.25,339.79 328.95,345.23 329.65,340.63 330.35,345.23 331.05,340.76 331.75,346.36 332.45,341.13 333.15,346.58 333.85,338.13 334.55,351.34 335.25,339.99 335.95,346.08 336.65,338.77 337.35,347.59 338.05,339.26 338.75,348.28 339.45,336.49 340.15,346.48 340.85,338.89 341.55,348.03 342.25,337.40 342.95,350.61 343.65,337.50 344.35,346.37 345.05,336.34 345.75,349.89 346.45,339.71 347.15,345.58 347.85,337.48 348.55,347.88 349.25,333.85 349.95,346.17 350.65,334.08 351.35,349.16 352.05,339.65 352.75,350.41 353.45,337.76 354.15,350.80 354.85,336.39 355.55,350.05 356.25,335.79 356.95,350.34 357.65,335.24 358.35,345.91 359.05,332.71 359.75,350.83 360.45,334.71 361.15,348.96 361.85,335.62 362.55,348.69 363.25,338.30 363.95,347.60 364.65,340.62 365.35,348.00 366.05,338.43 366.75,346.03 367.45,337.34 368.15,346.65 368.85,339.43 369.55,349.75 370.25,334.47 370.95,347.05 371.65,337.40 372.35,351.15 373.05,336.83 373.75,347.36 374.45,337.77 375.15,347.61 375.85,335.94 376.55,346.62 377.25,336.43 377.95,348.04 378.65,340.54 379.35,346.85 380.05,340.30 380.75,345.23 381.45,339.83 382.15,350.38 382.85,337.32 383.55,350.69 384.25,339.99 384.95,350.87 385.65,336.56 386.35,349.43 387.05,338.50 387.75,352.11 388.45,335.37 389.15,350.65 389.85,336.12 390.55,347.29 391.25,338.50 391.95,349.02 392.65,339.97 393.35,350.36 394.05,337.91 394.75,350.42 395.45,337.01 396.15,348.45 396.85,334.46 397.55,347.48 398.25,337.36 398.95,346.10 399.65,339.43 400.35,350.66 401.05,339.42 401.75,350.57 402.45,338.67 403.15,349.70 403.85,338.48 404.55,349.33 405.25,337.53 405.95,348.35 406.65,340.16 407.35,350.18 408.05,338.02 408.75,350.92 409.45,338.04 410.15,350.55 410.85,338.63 411.55,349.03 412.25,336.32 412.95,348.25 413.65,336.19 414.35,349.45 415.05,340.01 415.75,345.92 416.45,338.52 417.15,347.39 417.85,335.72 418.55,352.37 419.25,338.40 419.95,346.16 420.65,339.47 421.35,350.36 422.05,335.18 422.75,346.45 423.45,338.79 424.15,347.55 424.85,339.32 425.55,345.23 426.25,340.07 426.95,347.35 427.65,340.91 428.35,346.85 429.05,340.02 429.75,347.47 430.45,340.66 431.15,346.96 431.85,340.47 432.55,348.67 433.25,339.35 433.95,346.11 434.65,338.43 435.35,347.88 436.05,340.17 436.75,347.76 437.45,337.13 438.15,346.38 438.85,338.84 439.55,346.45 440.25,339.27 440.95,347.03 441.65,336.45 442.35,345.97 443.05,335.00 443.75,345.86 444.45,336.95 445.15,346.73 445.85,336.11 446.55,348.84 447.25,337.51 447.95,349.22 448.65,338.81 449.35,349.83 450.05,339.10 450.75,347.55 451.45,337.81 452.15,347.80 452.85,337.44 453.55,347.62 454.25,338.58 454.95,347.58 455.65,338.37 456.35,350.34 457.05,338.36 457.75,350.60 458.45,339.24 459.15,345.47 459.85,337.89 460.55,347.11 461.25,338.55 461.95,346.75 462.65,341.03 463.35,349.66 464.05,340.62 464.75,344.79 465.45,340.89 466.15,349.56 466.85,338.13 467.55,346.59 468.25,338.29 468.95,348.38 469.65,339.03 470.35,348.71 471.05,340.87 471.75,349.07 472.45,338.59 473.15,348.54 473.85,340.98 474.55,349.20 475.25,338.59 475.95,349.88 476.65,338.95 477.35,345.18 478.05,338.52 478.75,345.72 479.45,337.78 480.15,346.84 480.85,340.83 481.55,346.96 482.25,340.77 482.95,346.10 483.65,337.61 484.35,348.17 485.05,339.00 485.75,346.00 486.45,339.35 487.15,346.47 487.85,337.78 488.55,349.07 489.25,337.00 489.95,346.57 490.65,334.46 491.35,347.05 492.05,334.26 492.75,350.45 493.45,334.05 494.15,351.06 494.85,334.64 495.55,348.86 496.25,334.76 496.95,349.22 497.65,338.10 498.35,346.96 499.05,333.37 499.75,348.86 500.45,335.85 501.15,348.27 501.85,333.90 502.55,346.77 503.25,334.00 503.95,352.45 504.65,336.95 505.35,349.32 506.05,339.54 506.75,350.82 507.45,339.67 508.15,347.67 508.85,337.04 509.55,351.15 510.25,339.30 510.95,348.56 511.65,333.77 512.35,350.08 513.05,338.56 513.75,349.45 514.45,333.34 515.15,345.53 515.85,334.69 516.55,351.46 517.25,336.28 517.95,348.75 518.65,338.65 519.35,347.97 520.05,339.14 520.75,348.41 521.45,335.69 522.15,351.88 522.85,339.35 523.55,345.35 524.25,340.55 524.95,346.14 525.65,341.33 526.35,346.08 527.05,340.71 527.75,348.00 528.45,339.11 529.15,346.95 529.85,334.95 530.55,350.06 531.25,337.46 531.95,346.22 532.65,338.26 533.35,349.72 534.05,339.75" stroke="#0072BD" stroke-width="0.6" fill="none" stroke-linejoin="round"/>
<path clip-path="url(#p3c)" d="M53.50,375.55 53.70,341.97 53.90,342.01 54.10,329.20 54.30,335.07 54.50,321.00 54.70,339.06 54.90,358.69 55.10,363.97 55.30,363.40 55.50,341.40 55.70,341.68 55.90,343.41 56.10,327.77 56.30,329.35 56.50,330.22 56.70,335.30 56.90,337.52 57.10,361.91 57.30,344.90 57.50,356.55 57.70,335.84 57.90,341.06 58.10,329.03 58.30,353.93 58.50,333.31 58.70,332.42 58.90,342.97 59.10,341.23 59.30,342.86 59.50,348.05 59.70,363.05 59.90,349.24 60.10,335.14 60.30,327.82 60.50,330.92 60.70,332.98 60.90,336.46 61.10,339.44 61.30,360.79 61.50,361.71 61.70,357.15 61.90,358.13 62.10,344.79 62.30,336.59 62.50,332.50 62.70,338.17 62.90,335.11 63.10,352.72 63.30,347.05 63.50,359.46 63.70,359.46 63.90,346.26 64.10,344.75 64.30,341.37 64.50,337.57 64.70,334.65 64.90,338.59 65.10,342.75 65.30,343.60 65.50,359.07 65.70,357.29 65.90,352.35 66.10,337.72 66.30,333.67 66.50,331.12 66.70,334.72 66.90,338.52 67.10,340.71 67.30,354.79 67.50,353.87 67.70,353.86 67.90,355.20 68.10,342.18 68.30,336.08 68.50,330.09 68.70,330.21 68.90,335.98 69.10,342.02 69.30,365.32 69.50,358.33 69.70,359.89 69.90,362.40 70.10,341.75 70.30,350.43 70.50,339.21 70.70,336.65 70.90,342.84 71.10,333.68 71.30,327.82 71.50,346.82 71.70,348.44 71.90,341.10 72.10,347.77 72.30,356.57 72.50,353.94 72.70,352.11 72.90,348.12 73.10,338.37 73.30,335.91 73.50,331.89 73.70,332.17 73.90,334.63 74.10,337.47 74.30,341.65 74.50,350.66 74.70,360.77 74.90,349.39 75.10,347.14 75.30,338.82 75.50,338.55 75.70,335.78 75.90,336.31 76.10,334.48 76.30,342.86 76.50,352.76 76.70,354.62 76.90,357.81 77.10,349.60 77.30,342.10 77.50,337.00 77.70,332.47 77.90,336.88 78.10,337.94 78.30,342.35 78.50,342.33 78.70,363.05 78.90,357.08 79.10,352.14 79.30,346.09 79.50,348.11 79.70,347.29 79.90,344.81 80.10,329.22 80.30,316.45 80.50,321.49 80.70,328.87 80.90,337.61 81.10,360.56 81.30,374.47 81.50,377.82 81.70,359.94 81.90,347.09 82.10,342.41 82.30,317.84 82.50,317.84 82.70,332.12 82.90,339.01 83.10,349.39 83.30,351.06 83.50,363.97 83.70,341.30 83.90,345.63 84.10,332.38 84.30,333.97 84.50,335.54 84.70,337.58 84.90,338.46 85.10,352.25 85.30,354.67 85.50,357.06 85.70,359.81 85.90,342.68 86.10,339.90 86.30,337.01 86.50,331.26 86.70,335.51 86.90,332.60 87.10,333.27 87.30,345.61 87.50,362.84 87.70,364.37 87.90,374.41 88.10,341.72 88.30,337.48 88.50,325.02 88.70,315.32 88.90,334.19 89.10,338.39 89.30,346.12 89.50,353.04 89.70,351.19 89.90,350.86 90.10,337.80 90.30,338.11 90.50,330.21 90.70,331.67 90.90,352.38 91.10,361.85 91.30,356.06 91.50,343.32 91.70,335.73 91.90,333.12 92.10,342.35 92.30,348.08 92.50,338.43 92.70,360.06 92.90,340.13 93.10,345.78 93.30,335.93 93.50,334.72 93.70,330.09 93.90,335.94 94.10,350.67 94.30,340.35 94.50,341.00 94.70,339.54 94.90,336.32 95.10,349.37 95.30,354.68 95.50,354.53 95.70,347.41 95.90,337.16 96.10,338.46 96.30,331.34 96.50,334.66 96.70,341.41 96.90,353.89 97.10,353.92 97.30,354.13 97.50,359.98 97.70,342.37 97.90,336.35 98.10,334.19 98.30,327.82 98.50,327.96 98.70,332.07 98.90,349.09 99.10,354.89 99.30,361.38 99.50,360.52 99.70,364.18 99.90,340.71 100.10,340.62 100.30,337.32 100.50,338.30 100.70,338.07 100.90,344.62 101.10,350.61 101.30,346.04 101.50,341.70 101.70,345.00 101.90,338.42 102.10,339.23 102.30,340.57 102.50,336.63 102.70,345.58 102.90,341.89 103.10,352.62 103.30,349.45 103.50,355.32 103.70,349.09 103.90,339.17 104.10,338.17 104.30,337.23 104.50,338.30 104.70,338.55 104.90,346.03 105.10,350.71 105.30,352.15 105.50,357.36 105.70,352.78 105.90,346.88 106.10,341.53 106.30,337.80 106.50,333.50 106.70,333.74 106.90,336.35 107.10,343.04 107.30,350.18 107.50,354.19 107.70,352.79 107.90,351.44 108.10,342.42 108.30,337.42 108.50,335.01 108.70,334.85 108.90,341.30 109.10,345.16 109.30,354.55 109.50,352.17 109.70,351.67 109.90,341.54 110.10,324.40 110.30,325.80 110.50,323.27 110.70,333.64 110.90,343.28 111.10,340.55 111.30,340.62 111.50,361.91 111.70,345.44 111.90,350.88 112.10,341.97 112.30,337.74 112.50,344.06 112.70,352.00 112.90,360.33 113.10,343.76 113.30,332.94 113.50,327.49 113.70,325.06 113.90,338.48 114.10,318.73 114.30,345.72 114.50,359.63 114.70,358.80 114.90,369.86 115.10,354.45 115.30,340.46 115.50,327.74 115.70,327.83 115.90,331.13 116.10,349.62 116.30,349.56 116.50,352.23 116.70,353.72 116.90,359.13 117.10,354.54 117.30,333.61 117.50,332.82 117.70,337.46 117.90,357.52 118.10,335.88 118.30,364.18 118.50,353.85 118.70,326.68 118.90,340.89 119.10,337.17 119.30,343.57 119.50,333.59 119.70,348.97 119.90,341.91 120.10,345.77 120.30,356.44 120.50,343.74 120.70,356.11 120.90,351.20 121.10,341.39 121.30,340.32 121.50,334.75 121.70,333.50 121.90,341.49 122.10,346.53 122.30,357.36 122.50,348.37 122.70,341.79 122.90,347.99 123.10,345.07 123.30,347.38 123.50,349.05 123.70,339.10 123.90,341.28 124.10,336.44 124.30,333.50 124.50,341.48 124.70,344.38 124.90,357.36 125.10,356.19 125.30,356.09 125.50,349.26 125.70,342.09 125.90,337.20 126.10,333.59 126.30,334.96 126.50,338.49 126.70,345.85 126.90,352.26 127.10,356.30 127.30,356.88 127.50,344.59 127.70,328.69 127.90,323.27 128.10,330.43 128.30,329.19 128.50,347.40 128.70,357.13 128.90,364.18 129.10,355.64 129.30,343.01 129.50,326.77 129.70,335.19 129.90,342.99 130.10,348.04 130.30,352.16 130.50,362.14 130.70,345.77 130.90,336.37 131.10,333.74 131.30,331.37 131.50,343.50 131.70,353.33 131.90,342.57 132.10,350.30 132.30,368.47 132.50,351.97 132.70,343.79 132.90,332.12 133.10,322.14 133.30,327.47 133.50,327.86 133.70,337.50 133.90,353.25 134.10,369.86 134.30,369.59 134.50,367.06 134.70,359.08 134.90,334.03 135.10,324.88 135.30,326.49 135.50,335.49 135.70,342.33 135.90,345.48 136.10,357.42 136.30,347.06 136.50,341.80 136.70,338.04 136.90,329.09 137.10,336.82 137.30,332.26 137.50,345.76 137.70,351.68 137.90,358.89 138.10,352.13 138.30,359.20 138.50,349.93 138.70,352.53 138.90,336.82 139.10,329.47 139.30,333.93 139.50,326.68 139.70,332.29 139.90,328.10 140.10,339.63 140.30,355.06 140.50,344.09 140.70,366.45 140.90,359.62 141.10,354.50 141.30,351.82 141.50,339.46 141.70,336.53 141.90,327.82 142.10,329.68 142.30,342.27 142.50,350.15 142.70,354.84 142.90,360.77 143.10,360.77 143.30,352.91 143.50,348.55 143.70,340.30 143.90,333.49 144.10,330.99 144.30,330.61 144.50,337.92 144.70,340.13 144.90,353.65 145.10,350.67 145.30,356.82 145.50,343.61 145.70,348.98 145.90,344.18 146.10,337.52 146.30,334.61 146.50,366.45 146.70,354.36 146.90,346.22 147.10,338.91 147.30,341.17 147.50,318.73 147.70,331.04 147.90,326.10 148.10,344.26 148.30,362.22 148.50,361.71 148.70,353.05 148.90,334.98 149.10,334.91 149.30,329.36 149.50,336.62 149.70,346.33 149.90,337.06 150.10,345.06 150.30,343.62 150.50,361.91 150.70,348.65 150.90,353.14 151.10,340.36 151.30,345.98 151.50,341.66 151.70,338.10 151.90,327.96 152.10,333.99 152.30,348.45 152.50,360.23 152.70,364.18 152.90,341.19 153.10,363.97 153.30,354.57 153.50,336.53 153.70,331.42 153.90,341.98 154.10,337.21 154.30,338.16 154.50,334.44 154.70,337.16 154.90,325.55 155.10,333.56 155.30,329.67 155.50,354.60 155.70,347.93 155.90,365.32 156.10,365.09 156.30,343.32 156.50,341.10 156.70,326.68 156.90,336.24 157.10,331.25 157.30,344.71 157.50,358.88 157.70,356.51 157.90,349.93 158.10,347.59 158.30,337.16 158.50,332.82 158.70,333.55 158.90,337.26 159.10,344.89 159.30,351.62 159.50,361.91 159.70,361.71 159.90,353.80 160.10,344.17 160.30,330.09 160.50,331.74 160.70,335.86 160.90,340.83 161.10,342.76 161.30,355.32 161.50,357.77 161.70,354.15 161.90,348.14 162.10,341.41 162.30,336.95 162.50,327.96 162.70,327.96 162.90,345.04 163.10,327.96 163.30,342.73 163.50,339.40 163.70,358.12 163.90,349.13 164.10,369.86 164.30,347.83 164.50,337.89 164.70,336.25 164.90,344.99 165.10,333.86 165.30,324.85 165.50,321.00 165.70,339.81 165.90,349.02 166.10,355.82 166.30,363.97 166.50,363.97 166.70,334.81 166.90,343.91 167.10,332.19 167.30,335.46 167.50,326.81 167.70,327.66 167.90,345.90 168.10,345.85 168.30,358.71 168.50,335.40 168.70,336.04 168.90,344.01 169.10,326.68 169.30,331.38 169.50,335.47 169.70,340.19 169.90,363.05 170.10,352.24 170.30,340.35 170.50,344.18 170.70,352.60 170.90,331.07 171.10,347.95 171.30,348.46 171.50,345.10 171.70,333.49 171.90,330.14 172.10,333.73 172.30,334.81 172.50,351.25 172.70,352.73 172.90,357.59 173.10,355.61 173.30,348.65 173.50,353.46 173.70,326.68 173.90,333.84 174.10,327.89 174.30,329.23 174.50,335.47 174.70,348.77 174.90,375.55 175.10,375.21 175.30,357.54 175.50,359.18 175.70,344.91 175.90,343.19 176.10,301.68 176.30,313.83 176.50,343.30 176.70,349.49 176.90,359.81 177.10,391.45 177.30,365.62 177.50,339.73 177.70,331.00 177.90,326.71 178.10,330.16 178.30,339.04 178.50,343.67 178.70,365.49 178.90,370.50 179.10,350.18 179.30,353.81 179.50,341.44 179.70,325.89 179.90,333.31 180.10,314.18 180.30,327.94 180.50,337.55 180.70,342.65 180.90,362.78 181.10,366.45 181.30,359.61 181.50,357.67 181.70,339.76 181.90,338.68 182.10,339.84 182.30,338.60 182.50,336.56 182.70,338.94 182.90,341.80 183.10,341.41 183.30,342.03 183.50,341.33 183.70,340.42 183.90,344.56 184.10,346.74 184.30,353.86 184.50,354.23 184.70,351.20 184.90,341.07 185.10,335.77 185.30,335.84 185.50,341.24 185.70,348.46 185.90,346.79 186.10,351.09 186.30,356.23 186.50,343.13 186.70,341.02 186.90,336.69 187.10,336.95 187.30,336.11 187.50,339.24 187.70,349.36 187.90,355.46 188.10,363.05 188.30,355.17 188.50,356.44 188.70,349.28 188.90,333.91 189.10,324.41 189.30,324.59 189.50,326.54 189.70,344.29 189.90,349.84 190.10,357.29 190.30,359.39 190.50,373.27 190.70,354.96 190.90,342.42 191.10,344.21 191.30,335.16 191.50,327.66 191.70,333.42 191.90,327.43 192.10,317.59 192.30,334.53 192.50,339.27 192.70,352.87 192.90,341.97 193.10,364.35 193.30,367.07 193.50,345.96 193.70,350.22 193.90,335.34 194.10,328.79 194.30,332.53 194.50,332.97 194.70,330.20 194.90,326.68 195.10,360.56 195.30,359.73 195.50,337.43 195.70,342.86 195.90,361.91 196.10,353.26 196.30,342.10 196.50,350.97 196.70,342.83 196.90,346.97 197.10,344.14 197.30,350.16 197.50,336.66 197.70,330.21 197.90,336.23 198.10,330.21 198.30,337.16 198.50,345.16 198.70,355.78 198.90,357.22 199.10,357.22 199.30,342.31 199.50,332.47 199.70,326.68 199.90,326.84 200.10,328.09 200.30,340.43 200.50,349.27 200.70,346.70 200.90,347.37 201.10,349.67 201.30,356.74 201.50,349.22 201.70,350.45 201.90,337.87 202.10,340.07 202.30,335.55 202.50,336.87 202.70,343.34 202.90,343.37 203.10,362.21 203.30,363.20 203.50,338.79 203.70,328.98 203.90,327.96 204.10,332.10 204.30,337.87 204.50,351.02 204.70,368.73 204.90,363.41 205.10,347.29 205.30,341.10 205.50,325.55 205.70,336.26 205.90,336.35 206.10,338.54 206.30,354.16 206.50,360.27 206.70,360.88 206.90,350.71 207.10,332.86 207.30,331.48 207.50,330.96 207.70,337.96 207.90,340.32 208.10,353.77 208.30,364.18 208.50,356.09 208.70,345.39 208.90,335.46 209.10,335.40 209.30,333.21 209.50,331.46 209.70,347.66 209.90,356.91 210.10,347.00 210.30,346.59 210.50,342.49 210.70,337.52 210.90,337.48 211.10,336.31 211.30,343.03 211.50,345.31 211.70,361.91 211.90,358.94 212.10,348.20 212.30,342.21 212.50,333.64 212.70,331.23 212.90,336.39 213.10,338.47 213.30,346.42 213.50,356.08 213.70,356.26 213.90,356.41 214.10,350.33 214.30,341.82 214.50,335.77 214.70,334.16 214.90,333.50 215.10,335.19 215.30,342.16 215.50,342.32 215.70,347.98 215.90,357.36 216.10,348.08 216.30,340.53 216.50,338.53 216.70,334.14 216.90,335.33 217.10,336.98 217.30,346.88 217.50,354.15 217.70,371.00 217.90,355.09 218.10,364.95 218.30,337.43 218.50,328.93 218.70,321.00 218.90,330.50 219.10,336.64 219.30,356.10 219.50,359.96 219.70,355.34 219.90,349.07 220.10,331.93 220.30,345.03 220.50,329.76 220.70,353.71 220.90,347.78 221.10,341.50 221.30,332.98 221.50,346.00 221.70,364.18 221.90,339.67 222.10,345.36 222.30,355.87 222.50,353.87 222.70,349.65 222.90,342.28 223.10,339.53 223.30,356.08 223.50,331.63 223.70,343.68 223.90,341.86 224.10,332.19 224.30,333.01 224.50,328.83 224.70,335.41 224.90,351.82 225.10,360.85 225.30,364.18 225.50,354.59 225.70,338.29 225.90,337.10 226.10,327.82 226.30,335.27 226.50,341.89 226.70,345.14 226.90,360.09 227.10,354.60 227.30,341.87 227.50,339.07 227.70,336.57 227.90,336.79 228.10,341.85 228.30,347.61 228.50,356.95 228.70,357.24 228.90,345.33 229.10,344.84 229.30,339.27 229.50,333.59 229.70,334.01 229.90,340.06 230.10,346.53 230.30,352.77 230.50,359.40 230.70,353.23 230.90,348.25 231.10,340.77 231.30,334.93 231.50,332.63 231.70,332.42 231.90,334.95 232.10,349.74 232.30,348.28 232.50,360.77 232.70,359.84 232.90,347.76 233.10,345.99 233.30,339.29 233.50,327.82 233.70,334.52 233.90,337.65 234.10,338.79 234.30,342.15 234.50,352.88 234.70,364.18 234.90,359.33 235.10,348.79 235.30,333.98 235.50,332.70 235.70,332.10 235.90,332.72 236.10,340.10 236.30,343.43 236.50,350.07 236.70,358.71 236.90,359.64 237.10,345.69 237.30,345.85 237.50,335.34 237.70,333.32 237.90,332.55 238.10,340.89 238.30,342.39 238.50,341.72 238.70,349.13 238.90,357.67 239.10,347.64 239.30,334.79 239.50,336.87 239.70,330.96 239.90,328.95 240.10,336.49 240.30,342.10 240.50,355.44 240.70,355.93 240.90,338.89 241.10,349.77 241.30,357.39 241.50,354.38 241.70,344.44 241.90,337.29 242.10,346.69 242.30,331.93 242.50,337.24 242.70,329.75 242.90,330.86 243.10,336.47 243.30,364.18 243.50,359.37 243.70,351.68 243.90,359.49 244.10,341.58 244.30,331.92 244.50,326.68 244.70,334.89 244.90,339.55 245.10,340.36 245.30,351.21 245.50,345.38 245.70,337.99 245.90,339.03 246.10,360.77 246.30,350.24 246.50,358.85 246.70,342.18 246.90,353.95 247.10,340.23 247.30,349.76 247.50,334.21 247.70,327.11 247.90,325.55 248.10,361.91 248.30,339.64 248.50,350.88 248.70,354.25 248.90,336.77 249.10,339.22 249.30,338.44 249.50,344.32 249.70,343.42 249.90,351.28 250.10,355.88 250.30,359.46 250.50,349.15 250.70,337.06 250.90,331.39 251.10,332.98 251.30,332.23 251.50,340.44 251.70,354.15 251.90,352.94 252.10,362.74 252.30,357.17 252.50,342.78 252.70,341.92 252.90,336.48 253.10,329.88 253.30,332.35 253.50,334.96 253.70,337.07 253.90,351.09 254.10,359.22 254.30,359.00 254.50,376.68 254.70,340.08 254.90,348.42 255.10,336.78 255.30,315.32 255.50,323.93 255.70,343.00 255.90,345.30 256.10,368.24 256.30,367.02 256.50,365.20 256.70,354.93 256.90,335.84 257.10,330.76 257.30,325.55 257.50,329.81 257.70,343.29 257.90,355.61 258.10,355.05 258.30,338.41 258.50,341.74 258.70,333.86 258.90,333.57 259.10,334.50 259.30,339.96 259.50,353.98 259.70,360.48 259.90,363.45 260.10,353.95 260.30,334.25 260.50,326.39 260.70,326.36 260.90,337.51 261.10,357.33 261.30,354.14 261.50,357.64 261.70,372.14 261.90,339.51 262.10,331.38 262.30,322.14 262.50,333.91 262.70,339.13 262.90,335.02 263.10,358.86 263.30,359.05 263.50,363.97 263.70,359.93 263.90,359.25 264.10,345.63 264.30,336.28 264.50,334.33 264.70,332.34 264.90,334.76 265.10,331.17 265.30,338.65 265.50,341.95 265.70,358.82 265.90,354.51 266.10,360.29 266.30,348.73 266.50,340.99 266.70,338.04 266.90,327.54 267.10,324.41 267.30,333.91 267.50,343.18 267.70,359.67 267.90,364.18 268.10,360.77 268.30,345.01 268.50,330.96 268.70,327.26 268.90,328.11 269.10,338.75 269.30,341.42 269.50,354.27 269.70,360.59 269.90,360.59 270.10,349.97 270.30,344.29 270.50,328.93 270.70,334.09 270.90,341.96 271.10,344.73 271.30,335.98 271.50,364.18 271.70,339.33 271.90,339.52 272.10,327.82 272.30,340.23 272.50,352.95 272.70,344.41 272.90,346.05 273.10,333.87 273.30,336.84 273.50,331.04 273.70,335.79 273.90,336.57 274.10,360.01 274.30,357.01 274.50,359.00 274.70,352.08 274.90,333.58 275.10,340.91 275.30,336.87 275.50,314.18 275.70,334.47 275.90,353.52 276.10,337.44 276.30,356.36 276.50,388.05 276.70,367.11 276.90,326.19 277.10,317.83 277.30,332.33 277.50,316.45 277.70,355.51 277.90,353.61 278.10,352.16 278.30,353.36 278.50,339.11 278.70,333.20 278.90,342.70 279.10,327.30 279.30,344.15 279.50,337.55 279.70,327.13 279.90,335.36 280.10,332.63 280.30,351.81 280.50,357.65 280.70,364.18 280.90,351.69 281.10,346.10 281.30,335.66 281.50,328.23 281.70,326.30 281.90,338.44 282.10,344.41 282.30,348.78 282.50,356.71 282.70,353.11 282.90,328.91 283.10,322.14 283.30,327.12 283.50,333.92 283.70,348.92 283.90,363.83 284.10,361.80 284.30,366.45 284.50,346.17 284.70,341.34 284.90,331.07 285.10,327.82 285.30,327.96 285.50,339.88 285.70,342.96 285.90,359.88 286.10,358.18 286.30,348.85 286.50,338.40 286.70,340.07 286.90,334.47 287.10,336.65 287.30,344.14 287.50,345.59 287.70,344.20 287.90,353.45 288.10,349.24 288.30,342.54 288.50,341.38 288.70,331.72 288.90,331.23 289.10,331.34 289.30,336.79 289.50,350.22 289.70,358.41 289.90,359.64 290.10,357.04 290.30,347.02 290.50,335.49 290.70,332.44 290.90,335.32 291.10,330.09 291.30,348.59 291.50,353.10 291.70,358.40 291.90,357.87 292.10,343.62 292.30,337.68 292.50,330.09 292.70,338.05 292.90,345.01 293.10,349.44 293.30,357.70 293.50,353.34 293.70,355.66 293.90,338.87 294.10,333.54 294.30,331.22 294.50,332.51 294.70,341.17 294.90,355.24 295.10,364.18 295.30,348.99 295.50,337.05 295.70,334.05 295.90,362.28 296.10,350.58 296.30,348.03 296.50,352.48 296.70,337.67 296.90,336.33 297.10,340.73 297.30,340.31 297.50,366.45 297.70,361.77 297.90,360.22 298.10,337.83 298.30,360.04 298.50,343.23 298.70,323.27 298.90,346.70 299.10,340.02 299.30,350.44 299.50,337.28 299.70,331.25 299.90,330.36 300.10,334.28 300.30,336.32 300.50,348.07 300.70,353.96 300.90,347.08 301.10,350.33 301.30,339.61 301.50,337.53 301.70,331.21 301.90,330.78 302.10,337.38 302.30,330.25 302.50,339.68 302.70,348.47 302.90,362.60 303.10,358.49 303.30,372.14 303.50,353.48 303.70,341.17 303.90,331.89 304.10,327.37 304.30,332.13 304.50,341.16 304.70,357.74 304.90,364.30 305.10,353.08 305.30,344.40 305.50,333.67 305.70,325.72 305.90,330.58 306.10,336.06 306.30,369.86 306.50,348.59 306.70,358.42 306.90,361.77 307.10,345.01 307.30,350.27 307.50,345.02 307.70,324.41 307.90,339.83 308.10,338.65 308.30,336.89 308.50,332.71 308.70,333.09 308.90,328.58 309.10,337.22 309.30,340.57 309.50,353.02 309.70,359.38 309.90,359.91 310.10,360.77 310.30,339.08 310.50,333.20 310.70,334.34 310.90,331.93 311.10,323.27 311.30,345.31 311.50,342.27 311.70,356.96 311.90,354.99 312.10,358.84 312.30,334.79 312.50,337.23 312.70,330.50 312.90,345.58 313.10,342.16 313.30,361.91 313.50,344.02 313.70,332.21 313.90,330.21 314.10,330.21 314.30,339.57 314.50,337.73 314.70,339.82 314.90,347.85 315.10,350.49 315.30,349.69 315.50,354.14 315.70,341.00 315.90,333.59 316.10,339.56 316.30,335.96 316.50,335.18 316.70,350.01 316.90,348.77 317.10,360.77 317.30,359.53 317.50,360.59 317.70,354.11 317.90,345.44 318.10,340.34 318.30,338.29 318.50,349.62 318.70,328.95 318.90,339.98 319.10,349.34 319.30,350.67 319.50,348.75 319.70,361.91 319.90,357.04 320.10,353.21 320.30,340.29 320.50,341.06 320.70,332.78 320.90,332.46 321.10,336.67 321.30,336.13 321.50,348.71 321.70,359.99 321.90,356.47 322.10,353.90 322.30,347.04 322.50,337.84 322.70,330.09 322.90,331.04 323.10,332.06 323.30,339.22 323.50,338.30 323.70,351.37 323.90,360.21 324.10,361.91 324.30,347.23 324.50,341.47 324.70,354.41 324.90,343.95 325.10,336.42 325.30,333.67 325.50,345.21 325.70,340.50 325.90,336.47 326.10,345.75 326.30,349.48 326.50,353.12 326.70,359.64 326.90,349.53 327.10,345.88 327.30,355.84 327.50,343.47 327.70,337.11 327.90,340.30 328.10,335.44 328.30,340.05 328.50,330.09 328.70,339.98 328.90,334.76 329.10,344.06 329.30,351.03 329.50,356.85 329.70,356.57 329.90,353.85 330.10,348.48 330.30,341.20 330.50,336.41 330.70,334.43 330.90,336.63 331.10,337.05 331.30,347.33 331.50,355.49 331.70,359.46 331.90,355.01 332.10,356.13 332.30,347.29 332.50,335.37 332.70,332.36 332.90,332.47 333.10,339.67 333.30,341.27 333.50,346.14 333.70,355.22 333.90,361.53 334.10,353.88 334.30,353.48 334.50,342.75 334.70,326.84 334.90,333.50 335.10,349.43 335.30,364.18 335.50,346.03 335.70,350.60 335.90,336.50 336.10,338.91 336.30,334.78 336.50,324.41 336.70,350.68 336.90,362.15 337.10,362.48 337.30,360.64 337.50,352.82 337.70,346.63 337.90,343.34 338.10,338.71 338.30,345.52 338.50,331.50 338.70,328.10 338.90,332.71 339.10,334.78 339.30,333.40 339.50,342.49 339.70,356.40 339.90,365.36 340.10,369.86 340.30,361.60 340.50,337.49 340.70,324.41 340.90,332.25 341.10,328.38 341.30,332.94 341.50,345.36 341.70,356.87 341.90,360.94 342.10,363.21 342.30,354.62 342.50,347.90 342.70,330.14 342.90,329.45 343.10,332.51 343.30,331.20 343.50,327.96 343.70,333.04 343.90,344.03 344.10,350.88 344.30,362.05 344.50,356.80 344.70,354.27 344.90,366.45 345.10,331.64 345.30,350.34 345.50,334.03 345.70,328.66 345.90,329.20 346.10,321.00 346.30,346.88 346.50,348.75 346.70,349.50 346.90,353.85 347.10,357.92 347.30,357.16 347.50,341.87 347.70,342.73 347.90,329.07 348.10,316.71 348.30,316.71 348.50,329.02 348.70,351.87 348.90,362.92 349.10,372.14 349.30,370.43 349.50,353.91 349.70,329.57 349.90,314.18 350.10,326.21 350.30,329.31 350.50,340.36 350.70,339.62 350.90,362.96 351.10,356.30 351.30,361.71 351.50,355.91 351.70,349.02 351.90,330.21 352.10,330.31 352.30,327.56 352.50,339.38 352.70,348.72 352.90,348.96 353.10,353.99 353.30,358.36 353.50,363.05 353.70,334.87 353.90,334.31 354.10,333.57 354.30,340.82 354.50,339.10 354.70,353.18 354.90,348.91 355.10,347.18 355.30,331.89 355.50,339.82 355.70,339.33 355.90,335.17 356.10,348.37 356.30,361.63 356.50,371.00 356.70,344.41 356.90,345.97 357.10,329.63 357.30,324.07 357.50,324.92 357.70,337.50 357.90,351.38 358.10,351.42 358.30,364.73 358.50,364.53 358.70,361.63 358.90,359.09 359.10,339.27 359.30,347.41 359.50,319.86 359.70,332.77 359.90,327.51 360.10,327.64 360.30,338.06 360.50,347.02 360.70,381.23 360.90,371.02 361.10,364.78 361.30,363.70 361.50,342.14 361.70,321.00 361.90,325.16 362.10,330.16 362.30,343.18 362.50,348.28 362.70,355.44 362.90,361.71 363.10,351.72 363.30,353.84 363.50,338.97 363.70,339.61 363.90,332.71 364.10,335.38 364.30,343.84 364.50,347.21 364.70,342.46 364.90,336.36 365.10,337.08 365.30,340.71 365.50,340.44 365.70,335.26 365.90,355.20 366.10,339.59 366.30,346.90 366.50,335.56 366.70,345.95 366.90,347.47 367.10,358.11 367.30,352.88 367.50,345.94 367.70,335.05 367.90,343.17 368.10,332.70 368.30,326.84 368.50,327.68 368.70,340.28 368.90,347.28 369.10,365.32 369.30,350.59 369.50,354.25 369.70,353.77 369.90,321.00 370.10,331.68 370.30,333.50 370.50,330.24 370.70,340.64 370.90,355.65 371.10,359.39 371.30,364.04 371.50,360.23 371.70,335.06 371.90,327.96 372.10,329.18 372.30,332.63 372.50,342.80 372.70,350.54 372.90,361.76 373.10,341.68 373.30,353.68 373.50,339.37 373.70,336.42 373.90,344.06 374.10,327.96 374.30,343.14 374.50,354.44 374.70,350.10 374.90,362.54 375.10,347.46 375.30,353.92 375.50,323.27 375.70,334.97 375.90,354.96 376.10,331.29 376.30,346.00 376.50,366.45 376.70,348.50 376.90,344.44 377.10,331.26 377.30,346.13 377.50,331.84 377.70,335.11 377.90,330.97 378.10,338.13 378.30,341.86 378.50,344.54 378.70,359.64 378.90,359.47 379.10,354.17 379.30,351.95 379.50,342.56 379.70,327.82 379.90,338.71 380.10,332.88 380.30,337.99 380.50,338.23 380.70,336.76 380.90,339.00 381.10,345.25 381.30,350.08 381.50,361.71 381.70,361.71 381.90,354.56 382.10,341.22 382.30,341.14 382.50,328.86 382.70,325.55 382.90,325.72 383.10,335.47 383.30,333.69 383.50,340.80 383.70,341.16 383.90,341.52 384.10,344.51 384.30,343.36 384.50,351.24 384.70,369.86 384.90,342.25 385.10,334.89 385.30,325.95 385.50,318.73 385.70,318.97 385.90,318.97 386.10,360.60 386.30,364.35 386.50,357.85 386.70,360.70 386.90,362.78 387.10,326.77 387.30,331.03 387.50,339.99 387.70,321.21 387.90,353.59 388.10,343.95 388.30,355.78 388.50,345.64 388.70,338.42 388.90,351.43 389.10,343.13 389.30,345.28 389.50,364.18 389.70,339.16 389.90,347.11 390.10,346.29 390.30,342.80 390.50,335.82 390.70,330.65 390.90,334.44 391.10,325.55 391.30,361.88 391.50,364.18 391.70,359.70 391.90,363.97 392.10,354.98 392.30,352.12 392.50,338.81 392.70,335.19 392.90,328.56 393.10,328.99 393.30,328.41 393.50,333.76 393.70,335.94 393.90,343.96 394.10,356.03 394.30,361.44 394.50,361.11 394.70,349.64 394.90,354.75 395.10,335.15 395.30,333.09 395.50,323.27 395.70,329.47 395.90,344.54 396.10,350.16 396.30,364.18 396.50,354.56 396.70,346.96 396.90,355.76 397.10,328.26 397.30,334.41 397.50,335.69 397.70,354.91 397.90,342.62 398.10,343.16 398.30,344.73 398.50,347.22 398.70,329.73 398.90,327.20 399.10,337.82 399.30,339.34 399.50,364.18 399.70,354.14 399.90,344.53 400.10,337.58 400.30,324.59 400.50,324.59 400.70,336.37 400.90,330.07 401.10,355.35 401.30,347.10 401.50,345.46 401.70,358.63 401.90,350.37 402.10,350.16 402.30,335.39 402.50,340.70 402.70,321.00 402.90,336.96 403.10,353.29 403.30,374.41 403.50,336.35 403.70,335.93 403.90,333.65 404.10,328.03 404.30,325.31 404.50,333.56 404.70,331.19 404.90,350.52 405.10,363.97 405.30,363.97 405.50,363.97 405.70,340.64 405.90,331.51 406.10,327.21 406.30,327.49 406.50,339.07 406.70,343.26 406.90,348.99 407.10,351.85 407.30,352.31 407.50,339.71 407.70,335.50 407.90,331.54 408.10,336.21 408.30,341.36 408.50,350.99 408.70,358.21 408.90,361.71 409.10,355.11 409.30,341.75 409.50,335.41 409.70,329.66 409.90,329.33 410.10,330.12 410.30,344.11 410.50,342.74 410.70,346.40 410.90,364.18 411.10,362.73 411.30,355.06 411.50,348.10 411.70,337.21 411.90,340.13 412.10,325.55 412.30,351.02 412.50,348.31 412.70,353.78 412.90,354.24 413.10,332.86 413.30,334.26 413.50,328.94 413.70,338.39 413.90,339.52 414.10,348.12 414.30,359.60 414.50,366.45 414.70,337.97 414.90,330.56 415.10,329.64 415.30,331.02 415.50,338.42 415.70,348.92 415.90,376.68 416.10,368.16 416.30,354.90 416.50,344.79 416.70,333.94 416.90,317.59 417.10,319.29 417.30,333.40 417.50,348.54 417.70,368.44 417.90,366.96 418.10,363.05 418.30,346.90 418.50,355.88 418.70,337.27 418.90,321.00 419.10,325.04 419.30,329.18 419.50,331.29 419.70,345.55 419.90,376.68 420.10,356.48 420.30,353.17 420.50,358.81 420.70,339.05 420.90,344.13 421.10,335.63 421.30,324.41 421.50,334.34 421.70,337.15 421.90,356.36 422.10,360.10 422.30,361.71 422.50,355.21 422.70,339.32 422.90,329.26 423.10,330.42 423.30,331.57 423.50,339.92 423.70,338.10 423.90,346.52 424.10,343.84 424.30,351.10 424.50,345.08 424.70,331.23 424.90,335.80 425.10,338.68 425.30,344.71 425.50,346.16 425.70,345.96 425.90,345.15 426.10,347.83 426.30,342.18 426.50,337.94 426.70,339.89 426.90,334.64 427.10,340.01 427.30,347.09 427.50,358.50 427.70,358.34 427.90,358.34 428.10,350.83 428.30,344.73 428.50,336.10 428.70,336.54 428.90,338.83 429.10,349.30 429.30,340.55 429.50,351.11 429.70,348.16 429.90,353.20 430.10,346.42 430.30,340.90 430.50,340.43 430.70,338.17 430.90,340.05 431.10,336.70 431.30,346.91 431.50,343.64 431.70,341.44 431.90,350.91 432.10,355.05 432.30,358.34 432.50,343.86 432.70,353.10 432.90,337.63 433.10,335.23 433.30,332.36 433.50,332.47 433.70,344.21 433.90,354.42 434.10,356.96 434.30,359.64 434.50,347.61 434.70,346.84 434.90,338.97 435.10,340.25 435.30,336.61 435.50,340.15 435.70,341.83 435.90,354.16 436.10,346.89 436.30,359.11 436.50,360.59 436.70,339.77 436.90,338.92 437.10,339.17 437.30,330.41 437.50,340.06 437.70,364.18 437.90,360.08 438.10,351.56 438.30,353.26 438.50,335.33 438.70,332.03 438.90,341.19 439.10,334.79 439.30,331.66 439.50,343.36 439.70,348.08 439.90,342.41 440.10,349.66 440.30,362.51 440.50,356.84 440.70,347.69 440.90,336.26 441.10,334.20 441.30,324.49 441.50,340.12 441.70,352.85 441.90,356.11 442.10,370.72 442.30,370.72 442.50,344.92 442.70,349.99 442.90,331.31 443.10,301.68 443.30,325.50 443.50,349.03 443.70,361.59 443.90,389.18 444.10,352.24 444.30,339.98 444.50,311.00 444.70,316.23 444.90,328.74 445.10,338.60 445.30,357.51 445.50,385.77 445.70,385.34 445.90,347.39 446.10,370.31 446.30,339.79 446.50,311.10 446.70,307.36 446.90,339.21 447.10,334.53 447.30,349.80 447.50,343.71 447.70,352.06 447.90,351.35 448.10,339.78 448.30,334.91 448.50,336.52 448.70,328.95 448.90,341.23 449.10,343.62 449.30,356.30 449.50,358.79 449.70,352.42 449.90,341.19 450.10,334.90 450.30,332.11 450.50,336.42 450.70,342.60 450.90,355.29 451.10,360.77 451.30,354.83 451.50,355.33 451.70,336.32 451.90,330.90 452.10,330.09 452.30,337.12 452.50,341.58 452.70,351.33 452.90,359.70 453.10,359.52 453.30,353.32 453.50,339.69 453.70,335.31 453.90,331.53 454.10,338.82 454.30,347.27 454.50,344.25 454.70,348.05 454.90,346.29 455.10,340.75 455.30,345.45 455.50,336.08 455.70,341.02 455.90,336.27 456.10,335.92 456.30,344.63 456.50,351.31 456.70,366.45 456.90,366.21 457.10,352.14 457.30,350.90 457.50,339.24 457.70,330.09 457.90,331.24 458.10,341.13 458.30,351.65 458.50,343.04 458.70,359.82 458.90,351.36 459.10,341.04 459.30,342.46 459.50,338.25 459.70,347.77 459.90,347.21 460.10,350.24 460.30,349.75 460.50,343.16 460.70,337.96 460.90,328.95 461.10,333.46 461.30,337.33 461.50,343.48 461.70,361.91 461.90,360.06 462.10,359.77 462.30,359.49 462.50,343.62 462.70,339.41 462.90,334.78 463.10,331.23 463.30,333.90 463.50,343.84 463.70,352.69 463.90,346.93 464.10,353.84 464.30,340.50 464.50,338.71 464.70,334.36 464.90,343.29 465.10,340.61 465.30,356.67 465.50,348.93 465.70,339.89 465.90,337.59 466.10,347.37 466.30,332.36 466.50,339.19 466.70,348.35 466.90,360.07 467.10,359.61 467.30,358.91 467.50,340.74 467.70,337.88 467.90,332.47 468.10,332.47 468.30,341.56 468.50,339.85 468.70,336.92 468.90,367.59 469.10,359.60 469.30,362.79 469.50,358.22 469.70,340.28 469.90,331.82 470.10,330.09 470.30,334.30 470.50,335.74 470.70,359.40 470.90,342.34 471.10,344.03 471.30,344.62 471.50,341.39 471.70,347.60 471.90,338.50 472.10,354.61 472.30,358.73 472.50,346.95 472.70,345.82 472.90,339.89 473.10,333.67 473.30,341.85 473.50,346.54 473.70,339.85 473.90,361.91 474.10,345.02 474.30,335.82 474.50,331.23 474.70,331.34 474.90,339.53 475.10,341.31 475.30,354.15 475.50,360.91 475.70,360.77 475.90,357.34 476.10,339.53 476.30,334.15 476.50,338.25 476.70,335.10 476.90,344.08 477.10,354.16 477.30,359.48 477.50,348.36 477.70,346.41 477.90,346.17 478.10,340.89 478.30,341.45 478.50,330.09 478.70,336.70 478.90,338.20 479.10,346.79 479.30,360.29 479.50,363.05 479.70,348.88 479.90,358.60 480.10,337.85 480.30,333.37 480.50,345.53 480.70,340.14 480.90,349.73 481.10,349.26 481.30,352.75 481.50,341.82 481.70,334.71 481.90,330.09 482.10,332.81 482.30,340.04 482.50,359.51 482.70,356.70 482.90,360.59 483.10,349.95 483.30,338.96 483.50,331.27 483.70,331.30 483.90,335.90 484.10,343.07 484.30,345.03 484.50,363.05 484.70,354.14 484.90,339.04 485.10,337.97 485.30,327.82 485.50,330.21 485.70,330.93 485.90,342.17 486.10,361.08 486.30,357.08 486.50,349.33 486.70,339.52 486.90,336.36 487.10,333.09 487.30,332.66 487.50,345.72 487.70,349.77 487.90,359.46 488.10,341.31 488.30,350.44 488.50,347.42 488.70,356.06 488.90,346.34 489.10,339.70 489.30,343.71 489.50,341.37 489.70,340.86 489.90,325.72 490.10,342.97 490.30,358.60 490.50,355.89 490.70,358.72 490.90,357.99 491.10,355.75 491.30,361.49 491.50,347.89 491.70,340.79 491.90,361.62 492.10,327.03 492.30,326.06 492.50,356.31 492.70,336.06 492.90,320.86 493.10,322.25 493.30,327.31 493.50,372.96 493.70,372.96 493.90,371.52 494.10,349.35 494.30,351.13 494.50,319.99 494.70,308.50 494.90,316.41 495.10,354.87 495.30,354.50 495.50,368.13 495.70,377.82 495.90,344.53 496.10,346.97 496.30,309.64 496.50,325.79 496.70,309.96 496.90,309.96 497.10,363.09 497.30,356.14 497.50,363.51 497.70,385.77 497.90,340.61 498.10,336.87 498.30,359.58 498.50,342.43 498.70,335.08 498.90,348.26 499.10,351.29 499.30,313.05 499.50,341.22 499.70,320.92 499.90,320.65 500.10,334.00 500.30,364.53 500.50,361.04 500.70,361.33 500.90,371.00 501.10,344.31 501.30,337.63 501.50,335.05 501.70,330.10 501.90,323.46 502.10,323.29 502.30,350.53 502.50,327.81 502.70,356.61 502.90,353.52 503.10,364.30 503.30,360.05 503.50,355.99 503.70,325.42 503.90,317.59 504.10,321.20 504.30,327.44 504.50,332.84 504.70,356.45 504.90,362.95 505.10,372.14 505.30,352.12 505.50,354.19 505.70,360.54 505.90,335.61 506.10,328.55 506.30,321.21 506.50,337.42 506.70,331.43 506.90,322.18 507.10,348.08 507.30,350.84 507.50,341.89 507.70,349.57 507.90,341.68 508.10,345.96 508.30,352.25 508.50,339.85 508.70,357.55 508.90,364.18 509.10,351.98 509.30,341.87 509.50,329.94 509.70,321.00 509.90,321.21 510.10,342.51 510.30,341.58 510.50,363.79 510.70,352.72 510.90,353.96 511.10,368.73 511.30,361.49 511.50,353.91 511.70,347.37 511.90,324.81 512.10,318.73 512.30,336.42 512.50,327.76 512.70,349.12 512.90,364.09 513.10,357.65 513.30,352.43 513.50,344.56 513.70,336.29 513.90,320.88 514.10,325.78 514.30,325.37 514.50,335.00 514.70,358.83 514.90,368.73 515.10,367.10 515.30,362.17 515.50,347.11 515.70,350.84 515.90,334.90 516.10,317.59 516.30,344.01 516.50,334.30 516.70,343.68 516.90,345.32 517.10,361.62 517.30,344.89 517.50,351.39 517.70,327.53 517.90,341.11 518.10,337.04 518.30,351.81 518.50,352.75 518.70,361.71 518.90,353.33 519.10,343.21 519.30,338.19 519.50,328.54 519.70,328.69 519.90,329.19 520.10,337.64 520.30,338.78 520.50,362.47 520.70,366.45 520.90,359.08 521.10,340.86 521.30,334.78 521.50,323.27 521.70,331.36 521.90,342.08 522.10,343.71 522.30,342.53 522.50,361.94 522.70,333.53 522.90,344.97 523.10,344.43 523.30,343.33 523.50,350.56 523.70,359.46 523.90,351.62 524.10,340.54 524.30,338.68 524.50,335.24 524.70,337.92 524.90,336.49 525.10,335.13 525.30,338.27 525.50,348.22 525.70,358.50 525.90,358.34 526.10,348.78 526.30,355.56 526.50,341.06 526.70,337.25 526.90,335.84 527.10,337.07 527.30,339.27 527.50,340.28 527.70,342.62 527.90,342.17 528.10,346.19 528.30,355.51 528.50,361.71 528.70,344.67 528.90,349.26 529.10,335.15 529.30,350.64 529.50,334.88 529.70,338.45 529.90,338.10 530.10,321.15 530.30,338.33 530.50,352.71 530.70,354.18 530.90,372.14 531.10,363.35 531.30,351.18 531.50,319.86 531.70,321.35 531.90,328.66 532.10,333.00 532.30,346.59 532.50,354.39 532.70,359.46 532.90,350.69 533.10,343.87 533.30,339.59 533.50,330.21 533.70,340.34 533.90,330.28 534.10,351.02 534.30,359.46 534.50,359.46" stroke="#0072BD" stroke-width="0.8" fill="none" stroke-linejoin="round"/>
<text x="53.20" y="407.10" font-size="12.4" text-anchor="middle">0</text>
<text x="121.91" y="407.10" font-size="12.4" text-anchor="middle">0.05</text>
<text x="190.63" y="407.10" font-size="12.4" text-anchor="middle">0.1</text>
<text x="259.34" y="407.10" font-size="12.4" text-anchor="middle">0.15</text>
<text x="328.06" y="407.10" font-size="12.4" text-anchor="middle">0.2</text>
<text x="396.77" y="407.10" font-size="12.4" text-anchor="middle">0.25</text>
<text x="465.49" y="407.10" font-size="12.4" text-anchor="middle">0.3</text>
<text x="534.20" y="407.10" font-size="12.4" text-anchor="middle">0.35</text>
<text x="49.5" y="302.10" font-size="12.4" text-anchor="end">100</text>
<text x="49.5" y="346.10" font-size="12.4" text-anchor="end">0</text>
<text x="49.5" y="390.10" font-size="12.4" text-anchor="end">-100</text>
<text x="294" y="291.50" font-size="13.8" font-weight="bold" text-anchor="middle" class="t">Outer ring raceway defect 1mm, kurtosis = 3.6988</text>
<text transform="translate(18.2,345.50) rotate(-90)" font-size="14.1" text-anchor="middle">Acceleration ((m/s<tspan font-size="10.2" dy="-6.5">2</tspan><tspan dy="6.5">)</tspan></text>
<text x="293.5" y="424.6" font-size="13.8" text-anchor="middle">Time (s)</text>
</svg></body></html>
